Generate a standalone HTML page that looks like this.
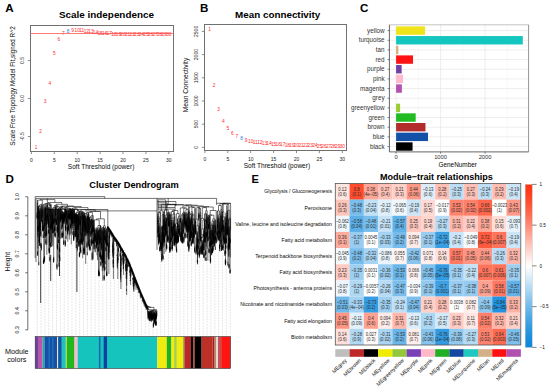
<!DOCTYPE html>
<html><head><meta charset="utf-8"><title>WGCNA figure</title>
<style>
html,body{margin:0;padding:0;background:#fff;overflow:hidden;}
svg{display:block;}
text{font-family:"Liberation Sans",sans-serif;}
</style></head>
<body>
<svg width="550" height="389" viewBox="0 0 550 389">
<rect width="550" height="389" fill="#fff"/>
<text x="5.30" y="11.90" font-size="11.6" text-anchor="start" fill="#000" font-weight="bold">A</text>
<text x="59.00" y="17.70" font-size="9.88" text-anchor="start" fill="#000" font-weight="bold">Scale independence</text>
<rect x="30.5" y="25.5" width="143.0" height="126.0" fill="none" stroke="#707070" stroke-width="1"/>
<line x1="30.5" y1="33.5" x2="173.5" y2="33.5" stroke="#ff7878" stroke-width="1"/>
<line x1="27.9" y1="60.5" x2="30.5" y2="60.5" stroke="#707070" stroke-width="0.8"/>
<text x="24.00" y="60.50" font-size="5.0" text-anchor="middle" fill="#1a1a1a" transform="rotate(-90 24.00 60.50)">0.5</text>
<line x1="27.9" y1="98.5" x2="30.5" y2="98.5" stroke="#707070" stroke-width="0.8"/>
<text x="24.00" y="98.50" font-size="5.0" text-anchor="middle" fill="#1a1a1a" transform="rotate(-90 24.00 98.50)">0.0</text>
<line x1="27.9" y1="136.5" x2="30.5" y2="136.5" stroke="#707070" stroke-width="0.8"/>
<text x="24.00" y="136.50" font-size="5.0" text-anchor="middle" fill="#1a1a1a" transform="rotate(-90 24.00 136.50)">-0.5</text>
<line x1="31.4" y1="151.5" x2="31.4" y2="154.1" stroke="#707070" stroke-width="0.8"/>
<text x="31.40" y="162.20" font-size="5.0" text-anchor="middle" fill="#1a1a1a">0</text>
<line x1="54.3" y1="151.5" x2="54.3" y2="154.1" stroke="#707070" stroke-width="0.8"/>
<text x="54.30" y="162.20" font-size="5.0" text-anchor="middle" fill="#1a1a1a">5</text>
<line x1="77.19999999999999" y1="151.5" x2="77.19999999999999" y2="154.1" stroke="#707070" stroke-width="0.8"/>
<text x="77.20" y="162.20" font-size="5.0" text-anchor="middle" fill="#1a1a1a">10</text>
<line x1="100.1" y1="151.5" x2="100.1" y2="154.1" stroke="#707070" stroke-width="0.8"/>
<text x="100.10" y="162.20" font-size="5.0" text-anchor="middle" fill="#1a1a1a">15</text>
<line x1="123.0" y1="151.5" x2="123.0" y2="154.1" stroke="#707070" stroke-width="0.8"/>
<text x="123.00" y="162.20" font-size="5.0" text-anchor="middle" fill="#1a1a1a">20</text>
<line x1="145.9" y1="151.5" x2="145.9" y2="154.1" stroke="#707070" stroke-width="0.8"/>
<text x="145.90" y="162.20" font-size="5.0" text-anchor="middle" fill="#1a1a1a">25</text>
<line x1="168.8" y1="151.5" x2="168.8" y2="154.1" stroke="#707070" stroke-width="0.8"/>
<text x="168.80" y="162.20" font-size="5.0" text-anchor="middle" fill="#1a1a1a">30</text>
<text x="101.10" y="169.00" font-size="6.55" text-anchor="middle" fill="#0a0a0a">Soft Threshold (power)</text>
<text x="15.20" y="86.00" font-size="6.38" text-anchor="middle" fill="#0a0a0a" transform="rotate(-90 15.20 86.00)">Scale Free Topology Model Fit,signed R^2</text>
<text x="35.98" y="148.65" font-size="4.8" text-anchor="middle" fill="#ff2a2a">1</text>
<text x="40.56" y="133.15" font-size="4.8" text-anchor="middle" fill="#ff2a2a">2</text>
<text x="45.14" y="103.35" font-size="4.8" text-anchor="middle" fill="#ff2a2a">3</text>
<text x="49.72" y="84.75" font-size="4.8" text-anchor="middle" fill="#ff2a2a">4</text>
<text x="54.30" y="54.55" font-size="4.8" text-anchor="middle" fill="#ff2a2a">5</text>
<text x="58.88" y="41.45" font-size="4.8" text-anchor="middle" fill="#ff2a2a">6</text>
<text x="63.46" y="34.95" font-size="4.8" text-anchor="middle" fill="#ff2a2a">7</text>
<text x="68.04" y="33.25" font-size="4.8" text-anchor="middle" fill="#1e7be0">8</text>
<text x="72.62" y="32.15" font-size="4.8" text-anchor="middle" fill="#ff2a2a">9</text>
<text x="77.20" y="32.25" font-size="4.8" text-anchor="middle" fill="#ff2a2a">10</text>
<text x="81.78" y="32.35" font-size="4.8" text-anchor="middle" fill="#ff2a2a">11</text>
<text x="86.36" y="32.55" font-size="4.8" text-anchor="middle" fill="#ff2a2a">12</text>
<text x="90.94" y="32.95" font-size="4.8" text-anchor="middle" fill="#ff2a2a">13</text>
<text x="95.52" y="34.05" font-size="4.8" text-anchor="middle" fill="#ff2a2a">14</text>
<text x="100.10" y="34.55" font-size="4.8" text-anchor="middle" fill="#ff2a2a">15</text>
<text x="104.68" y="34.95" font-size="4.8" text-anchor="middle" fill="#ff2a2a">16</text>
<text x="109.26" y="35.25" font-size="4.8" text-anchor="middle" fill="#ff2a2a">17</text>
<text x="113.84" y="35.65" font-size="4.8" text-anchor="middle" fill="#ff2a2a">18</text>
<text x="118.42" y="35.65" font-size="4.8" text-anchor="middle" fill="#ff2a2a">19</text>
<text x="123.00" y="35.65" font-size="4.8" text-anchor="middle" fill="#ff2a2a">20</text>
<text x="127.58" y="35.65" font-size="4.8" text-anchor="middle" fill="#ff2a2a">21</text>
<text x="132.16" y="35.65" font-size="4.8" text-anchor="middle" fill="#ff2a2a">22</text>
<text x="136.74" y="35.65" font-size="4.8" text-anchor="middle" fill="#ff2a2a">23</text>
<text x="141.32" y="35.65" font-size="4.8" text-anchor="middle" fill="#ff2a2a">24</text>
<text x="145.90" y="35.65" font-size="4.8" text-anchor="middle" fill="#ff2a2a">25</text>
<text x="150.48" y="35.65" font-size="4.8" text-anchor="middle" fill="#ff2a2a">26</text>
<text x="155.06" y="35.65" font-size="4.8" text-anchor="middle" fill="#ff2a2a">27</text>
<text x="159.64" y="35.65" font-size="4.8" text-anchor="middle" fill="#ff2a2a">28</text>
<text x="164.22" y="35.65" font-size="4.8" text-anchor="middle" fill="#ff2a2a">29</text>
<text x="168.80" y="35.65" font-size="4.8" text-anchor="middle" fill="#ff2a2a">30</text>
<text x="200.00" y="11.90" font-size="11.6" text-anchor="start" fill="#000" font-weight="bold">B</text>
<text x="235.10" y="17.60" font-size="9.84" text-anchor="start" fill="#000" font-weight="bold">Mean connectivity</text>
<rect x="204.5" y="24.5" width="142.0" height="126.0" fill="none" stroke="#707070" stroke-width="1"/>
<line x1="201.9" y1="147.40" x2="204.5" y2="147.40" stroke="#707070" stroke-width="0.8"/>
<text x="198.00" y="147.40" font-size="5.0" text-anchor="middle" fill="#1a1a1a" transform="rotate(-90 198.00 147.40)">0</text>
<line x1="201.9" y1="124.20" x2="204.5" y2="124.20" stroke="#707070" stroke-width="0.8"/>
<text x="198.00" y="124.20" font-size="5.0" text-anchor="middle" fill="#1a1a1a" transform="rotate(-90 198.00 124.20)">500</text>
<line x1="201.9" y1="101.00" x2="204.5" y2="101.00" stroke="#707070" stroke-width="0.8"/>
<text x="198.00" y="101.00" font-size="5.0" text-anchor="middle" fill="#1a1a1a" transform="rotate(-90 198.00 101.00)">1000</text>
<line x1="201.9" y1="77.80" x2="204.5" y2="77.80" stroke="#707070" stroke-width="0.8"/>
<text x="198.00" y="77.80" font-size="5.0" text-anchor="middle" fill="#1a1a1a" transform="rotate(-90 198.00 77.80)">1500</text>
<line x1="201.9" y1="54.60" x2="204.5" y2="54.60" stroke="#707070" stroke-width="0.8"/>
<text x="198.00" y="54.60" font-size="5.0" text-anchor="middle" fill="#1a1a1a" transform="rotate(-90 198.00 54.60)">2000</text>
<line x1="201.9" y1="31.40" x2="204.5" y2="31.40" stroke="#707070" stroke-width="0.8"/>
<text x="198.00" y="31.40" font-size="5.0" text-anchor="middle" fill="#1a1a1a" transform="rotate(-90 198.00 31.40)">2500</text>
<line x1="204.9" y1="150.5" x2="204.9" y2="153.1" stroke="#707070" stroke-width="0.8"/>
<text x="204.90" y="161.40" font-size="5.0" text-anchor="middle" fill="#1a1a1a">0</text>
<line x1="227.8" y1="150.5" x2="227.8" y2="153.1" stroke="#707070" stroke-width="0.8"/>
<text x="227.80" y="161.40" font-size="5.0" text-anchor="middle" fill="#1a1a1a">5</text>
<line x1="250.7" y1="150.5" x2="250.7" y2="153.1" stroke="#707070" stroke-width="0.8"/>
<text x="250.70" y="161.40" font-size="5.0" text-anchor="middle" fill="#1a1a1a">10</text>
<line x1="273.6" y1="150.5" x2="273.6" y2="153.1" stroke="#707070" stroke-width="0.8"/>
<text x="273.60" y="161.40" font-size="5.0" text-anchor="middle" fill="#1a1a1a">15</text>
<line x1="296.5" y1="150.5" x2="296.5" y2="153.1" stroke="#707070" stroke-width="0.8"/>
<text x="296.50" y="161.40" font-size="5.0" text-anchor="middle" fill="#1a1a1a">20</text>
<line x1="319.4" y1="150.5" x2="319.4" y2="153.1" stroke="#707070" stroke-width="0.8"/>
<text x="319.40" y="161.40" font-size="5.0" text-anchor="middle" fill="#1a1a1a">25</text>
<line x1="342.3" y1="150.5" x2="342.3" y2="153.1" stroke="#707070" stroke-width="0.8"/>
<text x="342.30" y="161.40" font-size="5.0" text-anchor="middle" fill="#1a1a1a">30</text>
<text x="276.90" y="168.20" font-size="6.55" text-anchor="middle" fill="#0a0a0a">Soft Threshold (power)</text>
<text x="188.40" y="85.00" font-size="6.63" text-anchor="middle" fill="#0a0a0a" transform="rotate(-90 188.40 85.00)">Mean Connectivity</text>
<text x="209.48" y="31.15" font-size="4.8" text-anchor="middle" fill="#ff2a2a">1</text>
<text x="214.06" y="86.55" font-size="4.8" text-anchor="middle" fill="#ff2a2a">2</text>
<text x="218.64" y="110.55" font-size="4.8" text-anchor="middle" fill="#ff2a2a">3</text>
<text x="223.22" y="123.15" font-size="4.8" text-anchor="middle" fill="#ff2a2a">4</text>
<text x="227.80" y="130.15" font-size="4.8" text-anchor="middle" fill="#ff2a2a">5</text>
<text x="232.38" y="134.85" font-size="4.8" text-anchor="middle" fill="#ff2a2a">6</text>
<text x="236.96" y="137.75" font-size="4.8" text-anchor="middle" fill="#ff2a2a">7</text>
<text x="241.54" y="140.35" font-size="4.8" text-anchor="middle" fill="#1e7be0">8</text>
<text x="246.12" y="141.76" font-size="4.8" text-anchor="middle" fill="#ff2a2a">9</text>
<text x="250.70" y="142.84" font-size="4.8" text-anchor="middle" fill="#ff2a2a">10</text>
<text x="255.28" y="143.68" font-size="4.8" text-anchor="middle" fill="#ff2a2a">11</text>
<text x="259.86" y="144.35" font-size="4.8" text-anchor="middle" fill="#ff2a2a">12</text>
<text x="264.44" y="144.89" font-size="4.8" text-anchor="middle" fill="#ff2a2a">13</text>
<text x="269.02" y="145.34" font-size="4.8" text-anchor="middle" fill="#ff2a2a">14</text>
<text x="273.60" y="145.72" font-size="4.8" text-anchor="middle" fill="#ff2a2a">15</text>
<text x="278.18" y="146.03" font-size="4.8" text-anchor="middle" fill="#ff2a2a">16</text>
<text x="282.76" y="146.30" font-size="4.8" text-anchor="middle" fill="#ff2a2a">17</text>
<text x="287.34" y="146.54" font-size="4.8" text-anchor="middle" fill="#ff2a2a">18</text>
<text x="291.92" y="146.74" font-size="4.8" text-anchor="middle" fill="#ff2a2a">19</text>
<text x="296.50" y="146.92" font-size="4.8" text-anchor="middle" fill="#ff2a2a">20</text>
<text x="301.08" y="147.08" font-size="4.8" text-anchor="middle" fill="#ff2a2a">21</text>
<text x="305.66" y="147.22" font-size="4.8" text-anchor="middle" fill="#ff2a2a">22</text>
<text x="310.24" y="147.34" font-size="4.8" text-anchor="middle" fill="#ff2a2a">23</text>
<text x="314.82" y="147.45" font-size="4.8" text-anchor="middle" fill="#ff2a2a">24</text>
<text x="319.40" y="147.55" font-size="4.8" text-anchor="middle" fill="#ff2a2a">25</text>
<text x="323.98" y="147.65" font-size="4.8" text-anchor="middle" fill="#ff2a2a">26</text>
<text x="328.56" y="147.73" font-size="4.8" text-anchor="middle" fill="#ff2a2a">27</text>
<text x="333.14" y="147.80" font-size="4.8" text-anchor="middle" fill="#ff2a2a">28</text>
<text x="337.72" y="147.87" font-size="4.8" text-anchor="middle" fill="#ff2a2a">29</text>
<text x="342.30" y="147.94" font-size="4.8" text-anchor="middle" fill="#ff2a2a">30</text>
<text x="359.90" y="12.30" font-size="11.6" text-anchor="start" fill="#000" font-weight="bold">C</text>
<rect x="389.4" y="24.8" width="139.20000000000005" height="127.10000000000001" fill="#fff"/>
<line x1="418.35" y1="24.8" x2="418.35" y2="151.9" stroke="#f2f2f2" stroke-width="0.5"/>
<line x1="462.85" y1="24.8" x2="462.85" y2="151.9" stroke="#f2f2f2" stroke-width="0.5"/>
<line x1="507.35" y1="24.8" x2="507.35" y2="151.9" stroke="#f2f2f2" stroke-width="0.5"/>
<line x1="396.10" y1="24.8" x2="396.10" y2="151.9" stroke="#e6e6e6" stroke-width="0.7"/>
<line x1="440.60" y1="24.8" x2="440.60" y2="151.9" stroke="#e6e6e6" stroke-width="0.7"/>
<line x1="485.10" y1="24.8" x2="485.10" y2="151.9" stroke="#e6e6e6" stroke-width="0.7"/>
<line x1="389.4" y1="30.60" x2="528.6" y2="30.60" stroke="#e6e6e6" stroke-width="0.7"/>
<line x1="389.4" y1="40.26" x2="528.6" y2="40.26" stroke="#e6e6e6" stroke-width="0.7"/>
<line x1="389.4" y1="49.92" x2="528.6" y2="49.92" stroke="#e6e6e6" stroke-width="0.7"/>
<line x1="389.4" y1="59.58" x2="528.6" y2="59.58" stroke="#e6e6e6" stroke-width="0.7"/>
<line x1="389.4" y1="69.24" x2="528.6" y2="69.24" stroke="#e6e6e6" stroke-width="0.7"/>
<line x1="389.4" y1="78.90" x2="528.6" y2="78.90" stroke="#e6e6e6" stroke-width="0.7"/>
<line x1="389.4" y1="88.56" x2="528.6" y2="88.56" stroke="#e6e6e6" stroke-width="0.7"/>
<line x1="389.4" y1="98.22" x2="528.6" y2="98.22" stroke="#e6e6e6" stroke-width="0.7"/>
<line x1="389.4" y1="107.88" x2="528.6" y2="107.88" stroke="#e6e6e6" stroke-width="0.7"/>
<line x1="389.4" y1="117.54" x2="528.6" y2="117.54" stroke="#e6e6e6" stroke-width="0.7"/>
<line x1="389.4" y1="127.20" x2="528.6" y2="127.20" stroke="#e6e6e6" stroke-width="0.7"/>
<line x1="389.4" y1="136.86" x2="528.6" y2="136.86" stroke="#e6e6e6" stroke-width="0.7"/>
<line x1="389.4" y1="146.52" x2="528.6" y2="146.52" stroke="#e6e6e6" stroke-width="0.7"/>
<rect x="396.1" y="26.40" width="28.92" height="8.4" fill="#efe31a"/>
<line x1="387.5" y1="30.60" x2="389.4" y2="30.60" stroke="#333" stroke-width="0.6"/>
<text x="384.60" y="32.80" font-size="6.3" text-anchor="end" fill="#333333">yellow</text>
<rect x="396.1" y="36.06" width="126.69" height="8.4" fill="#13c6bf"/>
<line x1="387.5" y1="40.26" x2="389.4" y2="40.26" stroke="#333" stroke-width="0.6"/>
<text x="384.60" y="42.46" font-size="6.3" text-anchor="end" fill="#333333">turquoise</text>
<rect x="396.1" y="45.72" width="2.23" height="8.4" fill="#d9ab7f"/>
<line x1="387.5" y1="49.92" x2="389.4" y2="49.92" stroke="#333" stroke-width="0.6"/>
<text x="384.60" y="52.12" font-size="6.3" text-anchor="end" fill="#333333">tan</text>
<rect x="396.1" y="55.38" width="16.91" height="8.4" fill="#ff1212"/>
<line x1="387.5" y1="59.58" x2="389.4" y2="59.58" stroke="#333" stroke-width="0.6"/>
<text x="384.60" y="61.78" font-size="6.3" text-anchor="end" fill="#333333">red</text>
<rect x="396.1" y="65.04" width="5.56" height="8.4" fill="#7240a2"/>
<line x1="387.5" y1="69.24" x2="389.4" y2="69.24" stroke="#333" stroke-width="0.6"/>
<text x="384.60" y="71.44" font-size="6.3" text-anchor="end" fill="#333333">purple</text>
<rect x="396.1" y="74.70" width="6.90" height="8.4" fill="#ffb9cb"/>
<line x1="387.5" y1="78.90" x2="389.4" y2="78.90" stroke="#333" stroke-width="0.6"/>
<text x="384.60" y="81.10" font-size="6.3" text-anchor="end" fill="#333333">pink</text>
<rect x="396.1" y="84.36" width="5.79" height="8.4" fill="#b552b0"/>
<line x1="387.5" y1="88.56" x2="389.4" y2="88.56" stroke="#333" stroke-width="0.6"/>
<text x="384.60" y="90.76" font-size="6.3" text-anchor="end" fill="#333333">magenta</text>
<line x1="387.5" y1="98.22" x2="389.4" y2="98.22" stroke="#333" stroke-width="0.6"/>
<text x="384.60" y="100.42" font-size="6.3" text-anchor="end" fill="#333333">grey</text>
<rect x="396.1" y="103.68" width="4.00" height="8.4" fill="#9acd32"/>
<line x1="387.5" y1="107.88" x2="389.4" y2="107.88" stroke="#333" stroke-width="0.6"/>
<text x="384.60" y="110.08" font-size="6.3" text-anchor="end" fill="#333333">greenyellow</text>
<rect x="396.1" y="113.34" width="19.58" height="8.4" fill="#22bb22"/>
<line x1="387.5" y1="117.54" x2="389.4" y2="117.54" stroke="#333" stroke-width="0.6"/>
<text x="384.60" y="119.74" font-size="6.3" text-anchor="end" fill="#333333">green</text>
<rect x="396.1" y="123.00" width="29.37" height="8.4" fill="#b22c2c"/>
<line x1="387.5" y1="127.20" x2="389.4" y2="127.20" stroke="#333" stroke-width="0.6"/>
<text x="384.60" y="129.40" font-size="6.3" text-anchor="end" fill="#333333">brown</text>
<rect x="396.1" y="132.66" width="31.91" height="8.4" fill="#1350a8"/>
<line x1="387.5" y1="136.86" x2="389.4" y2="136.86" stroke="#333" stroke-width="0.6"/>
<text x="384.60" y="139.06" font-size="6.3" text-anchor="end" fill="#333333">blue</text>
<rect x="396.1" y="142.32" width="16.46" height="8.4" fill="#000000"/>
<line x1="387.5" y1="146.52" x2="389.4" y2="146.52" stroke="#333" stroke-width="0.6"/>
<text x="384.60" y="148.72" font-size="6.3" text-anchor="end" fill="#333333">black</text>
<line x1="389.4" y1="24.8" x2="528.6" y2="24.8" stroke="#bdbdbd" stroke-width="0.9"/>
<line x1="528.6" y1="24.8" x2="528.6" y2="151.9" stroke="#8a8a8a" stroke-width="0.9"/>
<line x1="389.4" y1="24.8" x2="389.4" y2="151.9" stroke="#555" stroke-width="0.9"/>
<line x1="389.4" y1="151.9" x2="528.6" y2="151.9" stroke="#555" stroke-width="0.9"/>
<line x1="396.10" y1="151.9" x2="396.10" y2="153.70000000000002" stroke="#333" stroke-width="0.6"/>
<text x="396.10" y="159.40" font-size="5.8" text-anchor="middle" fill="#333333">0</text>
<line x1="440.60" y1="151.9" x2="440.60" y2="153.70000000000002" stroke="#333" stroke-width="0.6"/>
<text x="440.60" y="159.40" font-size="5.8" text-anchor="middle" fill="#333333">1000</text>
<line x1="485.10" y1="151.9" x2="485.10" y2="153.70000000000002" stroke="#333" stroke-width="0.6"/>
<text x="485.10" y="159.40" font-size="5.8" text-anchor="middle" fill="#333333">2000</text>
<text x="457.70" y="166.90" font-size="6.4" text-anchor="middle" fill="#050505">GeneNumber</text>
<g stroke="#4a4a4a" stroke-width="0.8" fill="none">
<path d="M27.8 196.8V329.8"/>
<path d="M25.2 329.8H27.8"/>
<path d="M25.2 310.8H27.8"/>
<path d="M25.2 291.8H27.8"/>
<path d="M25.2 272.8H27.8"/>
<path d="M25.2 253.8H27.8"/>
<path d="M25.2 234.8H27.8"/>
<path d="M25.2 215.8H27.8"/>
<path d="M25.2 196.8H27.8"/>
</g>
<text x="19.3" y="329.8" font-size="5.2" text-anchor="middle" fill="#0a0a0a" transform="rotate(-90 19.3 329.8)">0.3</text>
<text x="19.3" y="310.8" font-size="5.2" text-anchor="middle" fill="#0a0a0a" transform="rotate(-90 19.3 310.8)">0.4</text>
<text x="19.3" y="291.8" font-size="5.2" text-anchor="middle" fill="#0a0a0a" transform="rotate(-90 19.3 291.8)">0.5</text>
<text x="19.3" y="272.8" font-size="5.2" text-anchor="middle" fill="#0a0a0a" transform="rotate(-90 19.3 272.8)">0.6</text>
<text x="19.3" y="253.8" font-size="5.2" text-anchor="middle" fill="#0a0a0a" transform="rotate(-90 19.3 253.8)">0.7</text>
<text x="19.3" y="234.8" font-size="5.2" text-anchor="middle" fill="#0a0a0a" transform="rotate(-90 19.3 234.8)">0.8</text>
<text x="19.3" y="215.8" font-size="5.2" text-anchor="middle" fill="#0a0a0a" transform="rotate(-90 19.3 215.8)">0.9</text>
<text x="19.3" y="196.8" font-size="5.2" text-anchor="middle" fill="#0a0a0a" transform="rotate(-90 19.3 196.8)">1.0</text>
<text x="9.6" y="261.6" font-size="6.8" text-anchor="middle" fill="#0a0a0a" transform="rotate(-90 9.6 261.6)">Height</text>
<text x="134.0" y="187.6" font-size="9.25" font-weight="bold" text-anchor="middle" fill="#000">Cluster Dendrogram</text>
<text x="5.6" y="182.7" font-size="11.6" font-weight="bold" fill="#000">D</text>
<path d="M37.20 259.0V335.5M41.06 261.0V335.5M44.92 257.1V335.5M48.78 250.5V335.5M52.64 259.4V335.5M56.50 270.4V335.5M60.36 256.9V335.5M64.22 243.5V335.5M68.08 242.7V335.5M71.94 243.5V335.5M75.80 249.2V335.5M79.66 260.8V335.5M83.52 261.1V335.5M87.38 261.8V335.5M91.24 248.0V335.5M95.10 260.2V335.5M98.96 273.8V335.5M102.82 284.6V335.5M106.68 276.0V335.5M110.54 233.8V335.5M114.40 240.0V335.5M118.26 245.5V335.5M122.12 252.3V335.5M125.98 259.0V335.5M129.84 267.6V335.5M133.70 277.5V335.5M137.56 287.5V335.5M141.42 297.1V335.5M145.28 305.9V335.5M149.14 312.6V335.5M153.00 321.1V335.5M156.86 329.0V335.5M160.72 254.8V335.5M164.58 258.0V335.5M168.44 252.3V335.5M172.30 250.8V335.5M176.16 253.5V335.5M180.02 249.3V335.5M183.88 240.1V335.5M187.74 244.5V335.5M191.60 246.5V335.5M195.46 253.5V335.5M199.32 255.1V335.5M203.18 258.5V335.5M207.04 262.0V335.5M210.90 258.5V335.5M214.76 250.2V335.5M218.62 241.0V335.5M222.48 253.4V335.5M226.34 266.2V335.5M230.20 273.4V335.5" stroke="#a8a8a8" stroke-width="0.55" stroke-dasharray="0.55 1.0" fill="none"/>
<path d="M101.1 240.3V236.9H101.2V240.0M101.0 239.9V236.5H101.1V236.9M101.4 249.4V246.5H101.5V250.6M101.4 246.5V245.1H101.5V248.2M101.5 245.1V243.7H101.5V247.4M101.3 246.2V242.9H101.5V243.7M101.3 245.8V242.6H101.4V242.9M101.2 244.1V241.1H101.3V242.6M101.1 236.5V230.3H101.3V241.1M101.2 230.3V229.6H101.6V242.9M101.9 261.9V258.2H102.0V262.2M101.8 260.5V257.0H101.9V258.2M101.8 259.8V256.2H101.9V257.0M101.7 258.8V256.0H101.8V256.2M101.8 256.0V255.0H102.1V259.0M101.9 255.0V254.5H102.1V257.8M102.0 254.5V229.8H102.2V271.1M101.4 229.6V228.3H102.1V229.8M102.5 262.9V259.9H102.5V263.3M102.3 262.5V259.5H102.5V259.9M102.4 259.5V258.6H102.6V262.5M102.5 258.6V258.4H102.7V262.4M102.9 257.7V254.3H103.0V257.3M102.8 256.8V253.2H102.9V254.3M102.9 253.2V252.7H103.0V255.5M102.8 256.3V252.5H103.0V252.7M102.9 252.5V251.1H103.1V254.6M103.1 268.0V265.1H103.2V268.4M103.3 261.1V258.2H103.4V261.6M103.3 258.2V257.4H103.5V261.0M103.2 265.1V232.9H103.4V257.4M103.0 251.1V231.8H103.3V232.9M102.7 280.9V231.5H103.1V231.8M102.6 258.4V229.7H102.9V231.5M101.8 228.3V228.0H102.8V229.7M102.3 228.0V227.6H103.7V265.6M104.1 280.6V277.1H104.2V280.4M104.0 279.1V275.8H104.1V277.1M104.1 275.8V275.0H104.3V279.0M103.9 270.6V229.2H104.2V275.0M103.8 263.0V228.3H104.0V229.2M103.8 266.7V228.1H103.9V228.3M103.0 227.6V227.4H103.8V228.1M104.4 239.7V236.7H104.5V240.2M104.5 236.7V236.3H104.6V239.7M104.5 236.3V235.8H104.6V239.1M104.7 271.4V267.6H104.8V270.6M104.7 267.6V266.5H104.9V269.8M104.7 269.1V265.8H104.8V266.5M105.1 264.4V261.1H105.2V264.5M105.6 241.9V238.0H105.7V241.5M105.5 241.0V237.7H105.6V238.0M105.4 239.5V236.2H105.6V237.7M105.3 239.2V235.1H105.5V236.2M105.1 261.1V230.9H105.4V235.1M105.8 251.3V247.9H105.9V250.9M105.8 247.9V246.9H106.0V250.3M105.3 230.9V230.3H105.9V246.9M104.9 240.1V230.1H105.6V230.3M106.0 244.3V240.3H106.1V244.1M106.3 243.6V240.6H106.3V243.4M106.2 244.1V240.0H106.3V240.6M106.1 240.3V239.8H106.3V240.0M106.5 275.9V272.7H106.6V276.4M106.6 272.7V271.7H106.7V275.6M106.4 275.0V271.4H106.6V271.7M106.7 240.4V237.3H106.8V241.2M106.5 271.4V232.7H106.8V237.3M106.7 232.7V231.7H106.9V246.1M106.8 231.7V231.4H107.0V257.6M106.2 239.8V230.7H106.9V231.4M105.3 230.1V229.9H106.5V230.7M105.9 229.9V229.5H107.1V276.0M107.2 245.8V242.9H107.3V246.1M107.2 242.9V242.5H107.3V246.3M107.1 245.6V242.0H107.3V242.5M107.2 242.0V240.6H107.4V243.9M106.5 229.5V229.3H107.3V240.6M106.9 229.3V229.1H107.4V237.7M104.7 265.8V228.3H107.2V229.1M104.6 235.8V228.0H106.0V228.3M103.4 227.4V225.9H105.3V228.0M93.6 244.2V240.1H93.7V243.8M93.5 243.3V239.6H93.6V240.1M93.6 239.6V238.3H93.8V241.7M93.7 238.3V237.3H93.9V240.8M93.8 237.3V221.2H94.0V248.9M94.2 249.3V245.4H94.3V249.3M93.9 221.2V220.2H94.2V245.4M94.6 240.6V236.6H94.7V240.1M94.9 240.9V237.7H95.0V241.1M94.8 240.8V237.3H94.9V237.7M94.7 236.6V236.0H94.9V237.3M95.1 251.8V248.4H95.2V252.4M94.8 236.0V233.4H95.1V248.4M94.6 242.7V233.2H94.9V233.4M94.5 240.3V231.3H94.8V233.2M94.5 246.4V229.9H94.6V231.3M94.4 237.3V229.7H94.6V229.9M95.4 238.9V235.8H95.5V238.8M95.4 235.8V234.7H95.6V237.7M95.2 237.8V234.1H95.5V234.7M95.6 242.7V239.0H95.7V243.1M95.7 239.0V237.6H95.8V241.1M95.7 237.6V236.4H95.8V240.1M95.8 236.4V235.8H95.9V239.7M96.1 249.1V245.2H96.2V248.1M96.1 245.2V244.8H96.2V247.9M96.0 248.3V244.3H96.2V244.8M96.1 244.3V243.4H96.3V246.8M96.4 240.5V236.5H96.5V240.1M96.7 245.5V242.6H96.8V246.4M96.6 245.9V242.4H96.7V242.6M96.7 242.4V241.0H96.9V244.5M96.6 243.4V240.0H96.8V241.0M96.4 236.5V230.4H96.7V240.0M96.2 243.4V230.2H96.6V230.4M95.8 235.8V230.0H96.4V230.2M95.4 234.1V229.8H96.1V230.0M97.1 244.6V241.5H97.2V245.2M97.2 241.5V241.0H97.3V244.9M97.2 241.0V240.4H97.4V243.7M97.3 240.4V240.0H97.4V243.6M97.0 255.4V232.3H97.4V240.0M97.2 232.3V231.1H97.5V260.1M96.9 235.8V230.1H97.3V231.1M97.6 240.7V236.8H97.6V240.5M97.6 236.8V235.9H97.7V239.4M97.6 235.9V235.0H97.8V239.0M97.7 235.0V234.7H97.9V237.7M97.8 234.7V234.4H98.0V238.2M97.9 234.4V230.3H98.0V238.4M97.1 230.1V229.8H98.0V230.3M95.7 229.8V229.6H97.5V229.8M98.2 251.8V248.5H98.3V251.6M98.3 248.5V247.4H98.3V251.5M98.1 250.7V247.1H98.3V247.4M98.2 247.1V246.9H98.3V249.7M98.6 275.9V272.8H98.7V275.9M98.6 275.3V272.3H98.7V272.8M98.6 272.3V271.1H98.8V274.3M98.5 273.2V270.3H98.7V271.1M98.5 272.3V269.1H98.6V270.3M98.5 269.1V232.8H98.9V244.3M98.4 240.9V231.2H98.7V232.8M98.3 246.9V230.8H98.6V231.2M98.4 230.8V230.4H98.9V247.1M99.0 276.3V273.1H99.1V276.4M99.1 273.1V272.7H99.2V275.6M99.1 272.7V272.0H99.2V275.7M99.2 272.0V271.3H99.3V274.5M98.7 230.4V229.9H99.3V271.3M96.6 229.6V229.2H99.0V229.9M94.5 229.7V228.3H97.8V229.2M99.8 243.5V240.1H99.9V243.1M99.9 240.1V239.5H99.9V243.1M99.7 242.8V239.1H99.9V239.5M99.8 239.1V237.7H100.0V240.9M99.7 240.4V237.5H99.9V237.7M99.6 239.5V236.2H99.8V237.5M99.5 257.0V229.9H99.7V236.2M99.6 229.9V229.2H100.0V237.3M96.1 228.3V228.1H99.8V229.2M100.3 257.6V254.3H100.4V257.4M100.2 256.9V253.8H100.4V254.3M100.1 255.9V253.0H100.3V253.8M100.2 253.0V252.2H100.5V255.7M100.6 259.6V256.1H100.7V259.4M100.6 256.1V255.0H100.7V258.2M100.3 252.2V226.3H100.7V255.0M100.8 266.3V262.4H100.9V266.3M100.8 262.4V262.0H100.9V264.9M100.9 262.0V261.6H101.0V264.7M100.5 226.3V226.0H100.9V261.6M100.0 243.9V225.8H100.7V226.0M98.0 228.1V225.5H100.4V225.8M94.0 220.2V219.9H99.2V225.5M96.6 219.9V218.8H104.3V225.9M85.1 225.1V222.2H85.2V225.4M85.0 224.6V221.2H85.1V222.2M85.3 232.1V229.3H85.4V232.5M85.3 232.0V228.1H85.4V229.3M85.3 228.1V227.1H85.4V230.8M85.4 227.1V226.3H85.5V229.5M85.4 226.3V225.5H85.5V229.0M85.5 225.5V225.2H85.6V228.0M86.0 235.7V232.4H86.1V235.6M85.9 235.5V231.9H86.1V232.4M85.7 263.8V216.8H86.0V231.9M85.5 225.2V216.6H85.8V216.8M85.2 236.7V216.4H85.7V216.6M86.3 228.5V225.1H86.4V228.8M86.7 233.6V230.1H86.8V233.5M86.6 232.4V229.0H86.7V230.1M86.5 231.8V228.2H86.7V229.0M86.6 228.2V227.1H86.8V230.0M86.5 229.5V226.5H86.7V227.1M86.4 225.1V219.0H86.6V226.5M86.2 225.9V218.5H86.5V219.0M86.9 247.9V244.2H87.0V247.3M87.0 244.2V242.9H87.1V246.8M87.0 242.9V241.4H87.1V244.8M86.4 218.5V217.9H87.1V241.4M85.5 216.4V215.8H86.7V217.9M87.2 255.0V252.2H87.4V255.4M87.8 233.8V230.4H87.9V234.4M87.8 230.4V229.8H88.0V233.1M87.7 231.8V228.4H87.9V229.8M87.6 228.9V216.7H87.8V228.4M87.5 224.7V216.5H87.7V216.7M87.3 252.2V216.3H87.6V216.5M87.4 216.3V216.1H88.1V242.4M87.8 216.1V215.1H88.2V236.0M86.1 215.8V214.7H88.0V215.1M85.1 221.2V213.5H87.0V214.7M88.4 228.4V224.8H88.5V228.9M88.3 227.6V224.0H88.4V224.8M88.4 224.0V223.7H88.5V227.7M88.6 246.2V243.1H88.7V246.5M88.7 243.1V242.8H88.8V245.6M88.6 244.5V241.5H88.7V242.8M88.7 241.5V240.2H88.9V243.3M88.6 242.9V239.1H88.8V240.2M89.0 232.6V228.7H89.1V231.7M88.7 239.1V217.4H89.1V228.7M88.9 217.4V216.8H89.2V250.3M88.4 223.7V213.9H89.0V216.8M88.3 238.9V213.2H88.7V213.9M86.1 213.5V212.7H88.5V213.2M89.4 248.6V245.3H89.5V248.4M89.5 245.3V245.0H89.6V248.0M89.3 247.5V244.3H89.5V245.0M90.0 250.5V247.3H90.1V251.0M90.0 247.3V246.8H90.2V249.7M89.9 249.3V245.9H90.1V246.8M89.8 248.8V245.2H90.0V245.9M89.7 229.8V218.0H89.9V245.2M89.4 244.3V217.8H89.8V218.0M90.2 234.2V231.3H90.3V234.7M90.4 228.3V224.8H90.5V228.1M90.6 236.9V233.1H90.8V236.7M90.7 233.1V231.6H90.9V234.8M90.5 224.8V220.7H90.8V231.6M90.3 231.3V220.5H90.6V220.7M90.5 220.5V219.9H91.0V225.0M91.2 246.4V242.9H91.3V246.1M91.2 244.8V241.6H91.3V242.9M91.1 244.5V240.7H91.2V241.6M91.2 240.7V240.2H91.4V243.4M91.3 240.2V239.3H91.4V242.4M91.0 242.2V238.8H91.3V239.3M90.7 219.9V219.6H91.2V238.8M91.0 219.6V219.4H91.5V225.7M91.8 234.3V231.4H91.9V234.9M91.8 233.8V230.6H91.9V231.4M91.8 230.6V229.1H92.0V232.6M91.7 232.8V228.8H91.9V229.1M91.7 232.5V228.5H91.8V228.8M92.1 260.2V257.4H92.2V260.4M92.2 257.4V255.9H92.2V259.1M92.2 255.9V254.7H92.3V258.2M92.0 256.7V253.2H92.2V254.7M92.1 253.2V252.1H92.4V255.6M91.7 228.5V220.7H92.3V252.1M92.0 220.7V220.5H92.5V232.1M91.6 244.9V219.5H92.3V220.5M91.2 219.4V219.2H91.9V219.5M89.6 217.8V217.6H91.6V219.2M92.6 244.1V240.6H92.7V243.8M92.6 243.1V240.1H92.7V240.6M90.6 217.6V216.2H92.6V240.1M92.9 231.2V227.4H93.0V231.5M92.8 229.9V226.0H92.9V227.4M92.9 226.0V225.3H93.1V228.3M93.2 232.1V228.2H93.3V231.6M93.1 230.6V227.6H93.3V228.2M93.1 230.4V227.3H93.2V227.6M93.1 230.0V226.8H93.2V227.3M93.1 226.8V225.4H93.4V228.5M93.0 225.3V220.0H93.2V225.4M93.1 220.0V219.8H93.4V259.4M91.6 216.2V215.6H93.3V219.8M87.3 212.7V212.4H92.4V215.6M89.9 212.4V211.5H100.5V218.8M79.7 221.3V218.2H79.8V222.1M80.0 225.0V221.5H80.1V225.0M80.0 224.6V221.3H80.1V221.5M80.0 221.3V220.7H80.2V224.3M79.9 223.8V220.3H80.1V220.7M80.4 251.4V247.5H80.5V251.1M80.6 251.7V248.7H80.6V252.5M80.6 248.7V248.4H80.7V251.3M80.5 247.5V247.0H80.7V248.4M80.8 253.4V250.0H80.8V253.3M80.6 247.0V216.5H80.8V250.0M80.3 235.0V216.3H80.7V216.5M80.2 249.7V216.1H80.5V216.3M80.0 220.3V213.5H80.4V216.1M81.0 245.0V240.9H81.1V244.4M81.0 243.7V240.4H81.0V240.9M80.9 243.3V240.1H81.0V240.4M81.0 240.1V239.2H81.1V242.3M81.1 239.2V238.7H81.2V242.4M81.1 238.7V212.2H81.3V219.6M80.2 213.5V211.9H81.2V212.2M81.5 243.3V239.9H81.6V243.1M81.6 239.9V238.5H81.7V242.1M81.7 238.5V238.0H81.8V241.4M81.5 240.8V236.7H81.7V238.0M81.5 239.9V236.5H81.6V236.7M81.8 237.3V233.8H81.9V237.6M81.9 233.8V233.1H82.0V236.9M82.0 233.1V232.3H82.2V235.6M82.1 232.3V215.0H82.3V237.3M82.5 245.0V241.4H82.6V244.8M82.4 243.4V240.4H82.5V241.4M82.5 240.4V239.7H82.6V243.2M82.2 215.0V213.1H82.5V239.7M81.5 236.5V212.9H82.4V213.1M81.9 212.9V212.1H82.7V258.2M82.9 230.9V228.1H83.0V231.3M83.0 228.1V227.8H83.1V231.9M82.8 230.2V227.1H83.0V227.8M83.2 241.9V238.7H83.3V241.5M83.1 241.0V237.8H83.3V238.7M83.2 237.8V236.7H83.4V239.9M82.9 227.1V216.1H83.3V236.7M83.1 216.1V215.9H83.4V239.0M83.2 215.9V215.6H83.4V227.1M82.7 233.2V214.5H83.3V215.6M83.5 222.5V218.6H83.6V222.3M83.0 214.5V212.8H83.6V218.6M83.7 254.4V251.1H83.8V254.7M83.7 251.1V249.8H83.8V253.4M83.8 249.8V249.1H83.9V251.9M83.8 249.1V247.6H83.9V250.7M83.9 247.6V246.3H83.9V250.0M84.0 253.5V250.1H84.1V254.1M84.1 250.1V249.4H84.2V252.5M84.0 251.2V248.1H84.1V249.4M84.0 250.9V247.8H84.1V248.1M84.2 227.8V224.4H84.4V227.2M84.3 224.4V223.8H84.5V226.7M84.0 247.8V213.9H84.4V223.8M83.9 246.3V213.7H84.2V213.9M84.6 225.9V223.0H84.7V225.8M84.8 228.4V225.0H84.9V227.9M84.9 225.0V224.3H85.0V227.9M84.8 226.8V223.9H84.9V224.3M84.7 223.0V222.6H84.9V223.9M84.6 225.1V221.4H84.8V222.6M84.5 254.8V216.8H84.7V221.4M84.5 236.4V216.3H84.6V216.8M84.0 213.7V213.2H84.5V216.3M83.3 212.8V212.5H84.3V213.2M82.3 212.1V211.9H83.8V212.5M80.7 211.9V211.7H83.0V211.9M79.8 218.2V211.2H81.9V211.7M80.8 211.2V209.7H95.2V211.5M72.5 223.5V220.0H72.5V223.7M72.5 220.0V219.6H72.6V223.6M72.6 219.6V219.0H72.7V221.9M72.4 221.4V217.7H72.6V219.0M72.4 220.7V216.6H72.5V217.7M72.5 216.6V216.4H72.7V219.4M72.6 216.4V216.0H72.8V218.8M72.4 228.1V211.6H72.7V216.0M72.5 211.6V211.2H72.9V223.2M73.0 234.9V231.9H73.1V235.6M73.0 231.9V231.0H73.2V234.8M73.1 231.0V230.8H73.2V234.7M72.7 211.2V209.6H73.2V230.8M72.3 230.0V208.3H72.9V209.6M73.3 223.4V220.4H73.4V223.4M73.7 240.9V237.5H73.8V240.4M73.6 240.8V237.2H73.7V237.5M73.6 239.0V236.2H73.7V237.2M73.6 236.2V235.8H73.8V239.4M73.5 239.2V235.6H73.7V235.8M73.6 235.6V234.4H73.9V238.4M73.8 234.4V209.9H74.0V236.8M73.4 220.4V209.7H73.9V209.9M74.1 226.1V222.1H74.2V225.6M74.3 219.0V215.1H74.5V218.9M74.4 215.1V214.4H74.6V218.0M74.2 222.1V210.2H74.5V214.4M74.1 222.1V209.7H74.3V210.2M73.6 209.7V209.5H74.2V209.7M74.8 223.5V219.6H74.9V223.5M74.7 222.2V218.8H74.9V219.6M75.2 237.1V233.4H75.2V237.2M75.2 233.4V232.9H75.3V236.7M75.2 232.9V231.7H75.3V235.0M75.0 235.0V231.5H75.3V231.7M75.6 230.7V227.9H75.7V231.7M75.5 229.9V226.9H75.6V227.9M75.5 229.1V226.1H75.6V226.9M75.4 229.3V225.8H75.5V226.1M75.2 231.5V215.6H75.5V225.8M75.3 215.6V215.2H75.7V223.5M74.8 218.8V215.0H75.5V215.2M74.7 236.2V214.4H75.2V215.0M74.9 214.4V214.2H75.8V237.1M76.1 232.1V228.4H76.1V231.6M76.2 233.0V229.5H76.3V232.8M76.2 231.9V228.6H76.2V229.5M76.1 228.4V228.1H76.2V228.6M76.2 228.1V217.1H76.4V226.9M76.0 248.3V215.3H76.3V217.1M75.9 228.9V215.1H76.1V215.3M75.4 214.2V214.0H76.0V215.1M74.7 220.9V213.8H75.7V214.0M76.6 234.8V231.8H76.7V235.6M76.9 237.2V233.5H77.0V237.3M76.8 235.5V232.4H77.0V233.5M76.6 231.8V231.5H76.9V232.4M77.1 223.4V220.0H77.2V223.4M77.1 222.8V219.5H77.2V220.0M77.1 219.5V218.8H77.2V222.4M76.8 231.5V214.4H77.2V218.8M76.6 242.3V214.0H77.0V214.4M76.5 248.2V213.7H76.8V214.0M75.2 213.8V213.5H76.7V213.7M77.4 242.2V238.5H77.5V242.0M77.5 238.5V237.3H77.5V240.3M77.5 237.3V236.5H77.5V239.3M77.3 239.7V236.2H77.5V236.5M77.8 230.2V227.3H77.9V230.5M77.7 229.8V226.6H77.8V227.3M77.9 229.5V225.6H78.0V229.4M78.0 225.6V225.1H78.1V228.8M78.2 240.0V237.1H78.2V240.7M78.2 237.1V235.6H78.4V238.8M78.3 235.6V234.4H78.5V237.5M78.0 225.1V216.6H78.4V234.4M77.8 226.6V216.2H78.2V216.6M78.0 216.2V216.0H78.5V227.1M77.6 249.5V215.5H78.2V216.0M77.4 236.2V215.1H77.9V215.5M77.3 251.3V214.9H77.7V215.1M77.5 214.9V214.7H78.6V236.6M78.7 227.2V223.7H78.7V226.6M78.0 214.7V214.0H78.7V223.7M75.9 213.5V212.6H78.4V214.0M78.9 246.7V243.0H79.0V246.9M78.9 243.0V242.0H79.0V245.7M78.8 245.4V241.4H79.0V242.0M78.9 241.4V241.0H79.0V244.1M79.0 241.0V240.7H79.1V243.7M79.0 240.7V239.6H79.1V243.6M79.1 239.6V239.0H79.2V243.0M79.5 257.1V253.9H79.6V257.4M79.4 256.5V253.0H79.5V253.9M79.3 256.2V252.7H79.5V253.0M79.4 252.7V252.3H79.6V255.2M79.5 252.3V252.0H79.6V255.7M79.1 239.0V211.4H79.6V252.0M78.8 245.9V210.9H79.3V211.4M77.1 212.6V210.7H79.1V210.9M73.9 209.5V209.3H78.1V210.7M72.6 208.3V208.1H76.0V209.3M74.3 208.1V207.6H88.0V209.7M65.2 246.3V243.2H65.3V246.5M65.2 243.2V242.2H65.3V245.0M65.1 244.5V241.6H65.3V242.2M65.1 243.5V240.5H65.2V241.6M65.1 243.0V240.2H65.1V240.5M65.5 231.2V227.5H65.6V230.7M65.5 229.7V226.5H65.6V227.5M65.5 228.4V225.6H65.5V226.5M65.4 228.4V225.4H65.5V225.6M65.4 228.2V225.1H65.5V225.4M65.4 225.1V209.8H65.8V216.5M65.6 209.8V209.5H65.9V215.5M65.7 209.5V209.0H65.9V228.5M65.8 209.0V208.8H65.9V217.9M66.0 238.9V235.9H66.1V239.3M66.4 223.1V219.6H66.4V223.4M66.4 219.6V218.8H66.6V222.0M66.5 218.8V218.4H66.7V221.6M66.3 220.1V211.8H66.6V218.4M66.1 235.9V210.7H66.4V211.8M66.9 224.7V221.4H67.0V224.9M66.9 221.4V220.5H67.1V223.7M66.8 223.4V219.5H67.0V220.5M67.3 231.5V228.0H67.4V232.0M67.2 231.1V227.2H67.4V228.0M67.1 229.9V226.7H67.3V227.2M66.9 219.5V211.3H67.2V226.7M67.6 234.2V231.3H67.7V235.3M67.6 231.3V230.7H67.8V234.1M67.5 233.1V230.3H67.7V230.7M67.1 211.3V211.1H67.6V230.3M67.9 219.3V216.3H68.0V219.8M67.9 218.8V215.4H68.0V216.3M67.9 215.4V214.7H68.1V217.7M68.3 231.6V227.6H68.4V231.0M68.2 230.5V226.8H68.3V227.6M68.2 230.1V226.3H68.3V226.8M68.2 226.3V225.6H68.5V229.4M68.3 225.6V224.6H68.5V227.6M68.0 214.7V211.4H68.4V224.6M67.8 241.8V211.1H68.2V211.4M68.0 211.1V210.9H68.6V229.3M67.3 211.1V210.7H68.3V210.9M68.7 218.5V214.5H68.8V217.7M67.8 210.7V210.5H68.8V214.5M66.3 210.7V210.2H68.3V210.5M68.9 218.8V214.8H69.0V218.1M68.8 217.2V214.0H68.9V214.8M69.1 217.8V214.2H69.2V217.7M68.9 214.0V213.5H69.1V214.2M69.5 218.6V215.8H69.6V219.8M69.4 218.0V214.4H69.5V215.8M69.5 214.4V214.2H69.7V217.6M69.6 214.2V213.5H69.8V216.5M69.3 239.6V209.7H69.7V213.5M69.0 213.5V209.5H69.5V209.7M69.3 209.5V209.3H69.9V235.4M70.2 218.8V215.6H70.3V219.7M70.2 217.5V214.6H70.3V215.6M70.1 218.0V214.3H70.2V214.6M70.1 214.3V214.0H70.4V217.2M70.3 214.0V209.8H70.5V219.2M70.0 234.4V209.6H70.4V209.8M70.7 228.6V225.2H70.8V228.5M70.7 228.0V224.4H70.8V225.2M70.7 224.4V224.2H70.9V227.7M70.8 224.2V223.1H71.0V225.9M70.9 223.1V212.1H71.1V220.7M71.0 212.1V210.9H71.2V233.5M71.1 210.9V210.7H71.3V218.1M71.2 210.7V210.5H71.3V225.1M71.2 210.5V209.6H71.3V244.4M71.5 223.6V219.8H71.6V223.4M71.6 219.8V218.6H71.7V222.3M71.5 221.6V217.6H71.6V218.6M71.4 220.3V217.2H71.5V217.6M71.4 218.7V215.7H71.5V217.2M71.8 220.7V216.6H71.9V220.6M71.7 218.5V215.5H71.8V216.6M71.8 215.5V215.2H71.9V218.8M71.7 216.9V214.0H71.8V215.2M71.4 215.7V210.5H71.8V214.0M72.0 218.6V215.6H72.1V218.7M72.0 215.6V214.6H72.1V217.9M72.1 214.6V213.6H72.2V217.3M71.6 210.5V210.0H72.1V213.6M71.9 210.0V209.8H72.3V225.7M71.3 209.6V209.4H72.1V209.8M70.2 209.6V209.0H71.7V209.4M69.6 209.3V208.5H70.9V209.0M67.3 210.2V208.3H70.3V208.5M65.9 208.8V208.1H68.8V208.3M65.1 240.2V207.3H67.3V208.1M66.2 207.3V206.5H81.2V207.6M60.0 221.0V218.2H60.1V221.5M60.3 222.2V219.2H60.4V222.1M60.3 219.2V218.0H60.4V221.3M60.4 218.0V217.3H60.4V220.5M60.4 217.3V216.6H60.5V220.7M60.4 216.6V216.3H60.6V219.1M60.2 219.0V215.0H60.5V216.3M60.3 215.0V209.1H60.7V238.7M61.0 218.9V215.4H61.0V218.5M60.9 218.6V215.2H61.0V215.4M60.8 217.5V213.9H60.9V215.2M60.7 216.8V213.2H60.9V213.9M60.5 209.1V208.2H60.8V213.2M61.3 219.0V215.7H61.3V219.0M61.3 215.7V215.5H61.4V218.7M61.4 215.5V214.5H61.5V217.4M61.5 229.1V225.4H61.6V229.2M61.8 238.0V234.3H62.0V238.4M61.7 236.4V233.3H61.9V234.3M61.8 233.3V232.4H62.1V235.4M61.6 225.4V211.9H61.9V232.4M62.1 221.1V217.6H62.2V221.6M62.5 226.5V222.8H62.6V226.9M62.6 237.6V234.6H62.7V237.8M62.7 234.6V233.5H62.8V236.9M62.7 233.5V233.1H62.8V236.7M62.8 233.1V232.7H62.8V236.3M62.8 232.7V231.4H63.0V235.4M62.5 222.8V215.4H62.9V231.4M62.4 228.6V214.6H62.7V215.4M62.5 214.6V213.9H63.0V224.4M62.8 213.9V212.9H63.1V223.9M62.3 219.4V212.7H62.9V212.9M63.2 222.6V219.6H63.3V222.8M63.2 219.6V219.2H63.4V222.6M63.1 221.9V218.7H63.3V219.2M63.5 244.8V241.6H63.6V244.8M63.5 243.7V240.2H63.6V241.6M63.7 220.1V216.9H63.9V220.7M63.5 240.2V213.9H63.8V216.9M63.7 213.9V213.6H64.0V222.5M64.1 223.5V220.3H64.2V224.2M64.0 221.9V219.0H64.2V220.3M64.1 219.0V217.6H64.3V221.4M64.2 217.6V216.7H64.3V220.7M63.8 213.6V213.4H64.3V216.7M63.4 218.7V213.1H64.0V213.4M63.2 218.7V212.4H63.7V213.1M62.6 212.7V212.2H63.5V212.4M62.1 217.6V211.5H63.0V212.2M61.7 211.9V211.0H62.6V211.5M61.4 214.5V210.8H62.2V211.0M64.6 220.1V216.1H64.7V219.0M64.7 216.1V215.0H64.8V218.1M64.5 217.0V214.1H64.7V215.0M64.6 214.1V213.3H64.8V217.1M64.4 216.8V212.8H64.7V213.3M64.4 215.9V212.2H64.6V212.8M61.8 210.8V208.7H64.5V212.2M61.1 219.2V208.0H63.1V208.7M60.7 208.2V207.4H62.1V208.0M64.9 217.9V215.0H65.0V218.5M61.4 207.4V206.9H65.0V215.0M60.0 218.2V206.7H63.2V206.9M61.6 206.7V206.0H73.7V206.5M51.7 227.2V223.6H51.8V227.6M51.6 225.6V222.6H51.7V223.6M51.6 225.4V222.3H51.6V222.6M51.6 222.3V222.0H51.8V225.6M51.5 224.1V221.2H51.7V222.0M51.9 228.6V224.7H52.0V228.1M52.0 224.7V223.3H52.2V227.1M52.1 223.3V222.0H52.2V224.8M52.3 226.9V223.1H52.5V226.7M52.4 223.1V222.4H52.5V225.3M52.2 222.0V216.4H52.5V222.4M52.3 216.4V215.7H52.6V233.1M52.4 215.7V215.0H52.6V231.0M51.9 246.8V213.8H52.5V215.0M51.8 242.1V212.7H52.2V213.8M52.0 212.7V210.3H52.6V229.4M51.6 221.2V210.1H52.3V210.3M51.4 247.0V209.4H52.0V210.1M51.7 209.4V209.2H52.7V233.2M52.9 225.0V221.4H53.1V224.3M52.9 224.0V221.0H53.0V221.4M52.9 221.0V220.3H53.2V223.7M52.8 222.2V218.8H53.1V220.3M52.8 245.7V210.4H53.0V218.8M53.3 233.0V230.1H53.4V233.6M53.3 232.2V228.9H53.3V230.1M53.5 262.3V259.0H53.6V262.7M53.6 261.7V258.7H53.7V261.9M53.5 259.0V257.6H53.7V258.7M53.6 257.6V256.8H53.8V260.0M53.3 228.9V210.4H53.7V256.8M54.0 222.9V219.8H54.1V223.4M54.0 223.2V219.2H54.1V219.8M53.9 222.5V218.9H54.0V219.2M54.0 218.9V218.0H54.2V221.2M54.4 231.6V228.4H54.5V231.9M54.4 228.4V227.9H54.5V231.2M54.5 227.9V227.2H54.6V230.4M54.3 228.9V225.8H54.5V227.2M54.1 218.0V210.5H54.4V225.8M54.8 236.3V233.1H54.9V236.4M54.7 235.4V231.9H54.9V233.1M54.2 210.5V210.3H54.8V231.9M53.5 210.4V209.9H54.5V210.3M52.9 210.4V209.7H54.0V209.9M55.0 230.9V227.6H55.1V230.5M53.4 209.7V209.4H55.1V227.6M52.2 209.2V208.3H54.2V209.4M55.2 237.2V233.8H55.3V237.6M55.3 233.8V232.7H55.4V236.2M53.2 208.3V207.6H55.3V232.7M55.4 216.8V213.0H55.5V215.9M54.3 207.6V205.6H55.4V213.0M55.8 221.7V218.5H55.8V221.7M55.7 221.4V217.5H55.8V218.5M56.0 224.7V221.8H56.1V225.2M56.0 221.8V220.9H56.2V224.3M56.1 220.9V220.0H56.4V223.5M56.0 221.8V219.0H56.2V220.0M55.8 217.5V207.6H56.1V219.0M55.6 215.6V207.4H55.9V207.6M56.5 224.7V221.4H56.6V224.8M56.5 221.4V220.1H56.7V223.2M55.8 207.4V206.5H56.6V220.1M56.9 269.4V265.5H57.0V269.5M56.9 265.5V264.5H57.1V267.8M56.8 266.6V263.4H57.0V264.5M57.3 231.9V229.1H57.3V233.1M57.3 229.1V228.6H57.4V232.6M57.2 231.3V227.4H57.3V228.6M57.1 230.3V226.2H57.3V227.4M57.5 249.8V246.0H57.6V249.3M57.4 247.9V244.6H57.5V246.0M57.4 247.5V243.7H57.5V244.6M57.2 226.2V209.7H57.4V243.7M56.9 263.4V209.2H57.3V209.7M57.9 219.9V216.4H57.9V219.5M58.0 231.5V228.5H58.1V231.9M58.0 231.8V227.9H58.1V228.5M58.1 227.9V226.7H58.2V230.7M58.0 229.5V225.6H58.1V226.7M58.1 225.6V224.4H58.3V228.5M57.9 216.4V209.7H58.2V224.4M57.7 262.7V209.5H58.0V209.7M58.3 243.0V239.9H58.4V242.8M58.4 239.9V239.6H58.5V243.1M57.9 209.5V209.3H58.4V239.6M58.6 237.4V233.7H58.7V236.9M58.5 236.2V233.0H58.6V233.7M58.6 233.0V231.7H58.7V234.6M58.2 209.3V209.0H58.6V231.7M58.8 224.1V221.0H58.9V224.8M58.9 266.7V262.9H59.0V266.7M59.2 257.8V253.9H59.3V258.0M59.5 252.8V249.4H59.6V252.4M59.4 250.9V247.9H59.5V249.4M59.4 247.9V247.6H59.7V251.4M59.2 253.9V211.3H59.6V247.6M59.0 262.9V209.8H59.4V211.3M58.8 221.0V209.6H59.2V209.8M58.4 209.0V208.5H59.0V209.6M59.8 260.8V257.4H59.9V261.3M58.7 208.5V208.1H59.9V257.4M57.1 209.2V206.8H59.3V208.1M56.2 206.5V206.2H58.2V206.8M54.9 205.6V205.4H57.2V206.2M56.0 205.4V204.3H67.6V206.0M43.9 229.9V226.9H44.0V230.8M44.0 226.9V226.0H44.1V229.4M44.0 226.0V225.2H44.2V228.0M44.3 262.8V258.9H44.4V262.4M44.4 258.9V258.4H44.4V261.2M44.4 258.4V257.5H44.5V260.7M44.5 257.5V256.3H44.5V259.9M44.5 256.3V256.0H44.6V259.0M44.7 225.9V222.4H44.8V226.2M44.6 226.0V222.0H44.7V222.4M45.1 237.9V234.3H45.2V238.2M45.0 236.8V233.2H45.1V234.3M45.0 235.9V231.8H45.1V233.2M44.9 233.7V230.3H45.0V231.8M44.7 222.0V210.9H45.0V230.3M44.8 210.9V209.4H45.2V220.9M45.0 209.4V209.2H45.3V218.2M44.5 256.0V207.9H45.2V209.2M45.5 221.1V217.9H45.6V221.0M45.4 220.4V217.3H45.5V217.9M45.4 220.5V217.0H45.5V217.3M45.4 217.0V215.5H45.7V218.4M45.8 244.5V241.7H45.9V244.8M45.8 243.2V240.2H45.9V241.7M45.7 242.9V239.0H45.8V240.2M45.6 215.5V208.2H45.8V239.0M45.4 236.7V208.0H45.7V208.2M45.5 208.0V207.8H46.0V235.5M45.3 216.5V207.0H45.7V207.8M44.8 207.9V206.5H45.5V207.0M46.1 224.8V220.9H46.2V224.7M46.5 236.0V232.4H46.6V235.6M46.5 232.4V232.1H46.6V235.5M46.6 232.1V230.7H46.7V234.2M46.4 233.3V229.5H46.6V230.7M46.5 229.5V215.6H46.8V254.9M46.6 215.6V215.3H46.8V224.4M46.7 215.3V209.0H46.9V244.6M46.1 220.9V208.2H46.8V209.0M45.2 206.5V205.3H46.5V208.2M44.1 225.2V204.0H45.8V205.3M45.0 204.0V203.8H47.0V211.9M47.3 217.6V214.2H47.4V217.2M47.3 214.2V213.4H47.4V216.5M47.4 213.4V212.9H47.5V216.0M47.2 216.3V212.5H47.4V212.9M47.6 220.9V217.5H47.7V220.8M47.5 220.1V216.7H47.6V217.5M47.6 216.7V215.2H47.7V218.1M47.6 215.2V214.9H47.8V217.9M47.3 212.5V205.0H47.7V214.9M47.9 224.2V220.5H47.9V224.0M48.3 227.5V223.8H48.4V227.8M48.3 223.8V223.4H48.5V226.5M48.4 223.4V222.5H48.5V225.7M48.4 222.5V221.5H48.5V224.9M48.5 221.5V220.1H48.6V223.0M48.2 221.5V218.6H48.5V220.1M48.2 222.0V218.2H48.4V218.6M48.1 222.7V209.4H48.3V218.2M47.9 220.5V209.1H48.2V209.4M48.6 233.8V229.9H48.7V233.8M48.7 229.9V229.6H48.8V233.0M49.1 252.9V249.8H49.2V253.2M49.3 252.4V249.6H49.4V253.3M49.4 249.6V248.6H49.4V252.6M49.1 249.8V248.4H49.4V248.6M49.0 250.7V247.9H49.3V248.4M49.5 242.4V238.9H49.6V242.7M49.4 241.7V238.1H49.5V238.9M49.5 238.1V236.7H49.6V240.6M49.1 247.9V208.7H49.6V236.7M48.9 250.1V208.5H49.3V208.7M48.7 229.6V208.0H49.1V208.5M48.0 209.1V207.8H48.9V208.0M49.8 261.7V257.7H49.9V261.0M49.7 260.0V256.9H49.9V257.7M50.3 247.3V244.2H50.3V247.7M50.2 246.0V243.1H50.3V244.2M50.2 243.1V242.9H50.4V245.8M50.1 245.7V242.3H50.3V242.9M50.0 245.1V241.9H50.2V242.3M50.1 241.9V209.9H50.4V238.4M49.8 256.9V209.7H50.3V209.9M50.5 228.3V225.5H50.6V228.7M50.5 225.5V224.7H50.7V228.0M50.0 209.7V209.5H50.6V224.7M49.7 217.1V209.0H50.3V209.5M48.5 207.8V207.6H50.0V209.0M49.2 207.6V205.6H50.8V221.0M50.0 205.6V205.0H50.9V246.3M47.5 205.0V204.8H50.5V205.0M51.2 230.1V226.0H51.3V228.8M51.1 228.8V225.0H51.3V226.0M51.0 226.7V223.9H51.2V225.0M49.0 204.8V204.0H51.1V223.9M46.0 203.8V203.6H50.0V204.0M48.0 203.6V202.5H61.8V204.3M37.1 219.1V215.7H37.2V218.5M37.2 215.7V214.7H37.3V218.2M37.0 216.9V213.2H37.2V214.7M37.1 213.2V212.0H37.3V215.7M37.4 255.4V252.4H37.5V256.1M37.5 252.4V251.5H37.6V254.6M37.6 251.5V250.8H37.7V253.7M37.2 212.0V203.0H37.6V250.8M37.4 203.0V200.3H37.8V237.1M38.1 231.4V228.6H38.2V231.8M38.0 231.7V228.1H38.2V228.6M38.0 230.8V227.4H38.1V228.1M37.9 229.9V226.1H38.1V227.4M38.0 226.1V225.8H38.3V229.0M38.4 218.7V215.6H38.5V218.9M38.2 225.8V207.8H38.5V215.6M37.9 234.3V207.2H38.3V207.8M37.9 248.6V207.0H38.1V207.2M38.7 265.6V261.8H38.8V265.0M38.9 238.2V234.1H39.0V238.0M38.9 234.1V232.7H39.0V236.2M39.3 242.7V239.9H39.4V243.9M39.2 242.1V239.3H39.3V239.9M39.2 242.5V238.6H39.3V239.3M39.2 242.0V238.0H39.3V238.6M39.2 238.0V236.9H39.5V240.2M39.4 236.9V236.6H39.5V240.4M39.4 236.6V236.3H39.6V240.2M39.1 231.8V211.9H39.5V236.3M39.0 232.7V211.4H39.3V211.9M39.1 211.4V210.5H39.6V236.6M38.7 261.8V209.8H39.4V210.5M39.8 245.9V242.8H39.9V245.6M39.7 245.9V242.5H39.8V242.8M39.7 245.5V241.9H39.7V242.5M39.1 209.8V209.3H39.7V241.9M40.1 230.1V226.5H40.2V229.9M40.2 226.5V226.1H40.3V229.4M40.1 228.7V224.8H40.2V226.1M40.0 227.5V224.0H40.1V224.8M40.1 224.0V223.0H40.3V227.1M40.2 223.0V222.5H40.4V226.2M39.4 209.3V208.5H40.3V222.5M38.6 216.2V206.7H39.8V208.5M38.0 207.0V206.5H39.2V206.7M38.6 206.5V206.0H40.5V230.4M40.7 236.6V232.9H40.8V236.8M40.6 235.3V231.7H40.7V232.9M40.7 231.7V230.4H40.9V234.3M40.6 233.0V229.1H40.8V230.4M41.1 250.4V247.2H41.2V250.3M41.1 247.2V246.4H41.3V250.0M41.1 248.4V245.3H41.2V246.4M41.1 247.4V244.4H41.1V245.3M41.0 247.5V243.7H41.1V244.4M41.0 247.4V243.4H41.1V243.7M40.9 246.0V243.1H41.0V243.4M40.7 229.1V209.6H41.0V243.1M41.4 221.3V218.3H41.5V222.1M41.5 218.3V217.0H41.6V221.1M41.6 217.0V216.7H41.6V220.8M41.4 218.7V215.5H41.6V216.7M41.5 215.5V215.0H41.7V218.0M41.3 218.0V214.7H41.6V215.0M40.8 209.6V209.0H41.5V214.7M41.1 209.0V208.2H41.8V216.3M41.5 208.2V205.9H41.9V212.8M41.9 218.0V214.0H42.0V217.3M41.9 216.1V212.5H42.0V214.0M41.9 215.1V211.1H42.0V212.5M41.9 211.1V210.7H42.1V214.2M41.7 205.9V205.4H42.0V210.7M42.3 223.5V220.4H42.4V224.2M42.3 220.4V220.0H42.4V223.2M42.7 231.2V227.4H42.8V230.7M42.6 230.4V227.0H42.8V227.4M42.7 227.0V226.4H42.8V230.4M42.8 226.4V225.0H42.9V228.0M42.6 228.2V224.8H42.8V225.0M42.5 227.2V223.4H42.7V224.8M42.9 231.4V227.9H43.0V230.7M43.0 227.9V226.8H43.1V230.9M42.6 223.4V209.2H43.0V226.8M43.2 238.0V234.2H43.3V238.1M42.8 209.2V208.8H43.3V234.2M42.4 220.0V206.4H43.0V208.8M41.8 205.4V205.2H42.7V206.4M39.5 206.0V205.0H42.3V205.2M43.5 263.8V260.7H43.6V263.8M43.4 264.1V260.3H43.5V260.7M43.5 260.3V259.7H43.7V262.6M43.6 259.7V258.2H43.8V261.5M40.9 205.0V204.3H43.7V258.2M37.6 200.3V200.1H42.3V204.3M40.0 200.1V199.6H54.9V202.5M148.1 319.4V315.9H148.2V319.4M148.1 318.0V315.0H148.1V315.9M148.1 315.0V313.9H148.3V317.4M148.4 316.7V313.6H148.5V317.2M148.4 313.6V312.2H148.6V315.2M148.2 313.9V311.9H148.5V312.2M148.0 315.1V311.7H148.4V311.9M148.2 311.7V311.5H148.7V314.5M148.8 317.5V314.3H148.9V317.1M148.8 314.3V314.0H149.0V317.7M148.7 317.5V313.6H148.9V314.0M148.4 311.5V311.3H148.8V313.6M149.1 320.3V316.7H149.2V320.7M149.2 316.7V315.3H149.3V318.2M149.2 315.3V315.1H149.3V318.5M149.5 320.6V317.4H149.5V321.2M149.5 317.4V316.3H149.6V319.5M149.5 316.3V315.2H149.7V318.4M149.8 319.3V315.8H149.9V318.8M149.8 318.3V314.5H149.8V315.8M149.8 314.5V314.3H150.0V317.7M149.6 315.2V312.9H149.9V314.3M149.7 312.9V312.7H150.0V316.9M149.4 316.3V312.5H149.9V312.7M149.3 317.2V312.3H149.6V312.5M150.1 316.6V313.3H150.2V316.3M150.1 313.3V313.0H150.3V316.6M150.4 317.7V314.3H150.5V318.3M150.3 317.0V313.0H150.5V314.3M150.2 313.0V312.3H150.4V313.0M149.5 312.3V312.1H150.3V312.3M149.2 315.1V311.9H149.9V312.1M150.6 321.0V317.7H150.7V321.3M150.7 317.7V317.0H150.8V319.9M150.6 319.3V315.7H150.8V317.0M149.6 311.9V311.7H150.7V315.7M151.0 318.7V315.6H151.1V318.9M151.1 315.6V315.1H151.2V317.9M151.1 315.1V314.0H151.2V316.9M150.9 315.5V312.6H151.1V314.0M150.1 311.7V311.5H151.0V312.6M151.3 322.2V318.2H151.4V321.1M150.6 311.5V311.3H151.3V318.2M148.6 311.3V311.1H150.9V311.3M151.4 319.9V316.5H151.5V319.7M151.4 316.5V315.3H151.6V318.3M151.5 315.3V314.1H151.7V317.6M151.6 314.1V313.8H151.7V317.1M151.8 316.4V312.7H151.9V316.2M151.7 313.8V311.5H151.9V312.7M151.8 311.5V311.3H152.0V314.8M152.2 320.8V317.4H152.3V320.6M152.3 317.4V316.8H152.4V320.4M152.3 316.8V315.5H152.4V318.6M152.2 318.3V314.4H152.4V315.5M152.1 317.0V313.6H152.3V314.4M151.9 311.3V311.1H152.2V313.6M149.8 311.1V310.9H152.0V311.1M152.6 319.3V316.4H152.7V320.1M152.5 319.0V315.6H152.6V316.4M152.5 315.6V314.2H152.7V317.7M152.6 314.2V314.0H152.8V317.3M153.0 319.3V316.2H153.0V319.2M152.9 319.4V315.4H153.0V316.2M152.9 315.4V314.6H153.1V317.5M153.0 314.6V314.3H153.1V317.9M153.1 314.3V313.6H153.2V317.6M153.3 327.4V324.0H153.4V327.5M153.3 324.0V323.6H153.5V326.6M153.4 323.6V322.3H153.6V325.6M153.1 313.6V311.8H153.5V322.3M153.7 318.1V314.8H153.8V318.8M153.7 314.8V314.2H153.8V318.2M153.9 318.4V315.4H154.1V319.1M154.2 324.3V320.4H154.3V324.2M154.3 320.4V319.3H154.4V322.4M154.3 319.3V318.7H154.5V321.6M154.4 318.7V318.3H154.5V321.2M154.2 320.7V317.2H154.5V318.3M154.0 315.4V312.0H154.3V317.2M153.8 314.2V311.8H154.2V312.0M153.3 311.8V311.6H154.0V311.8M152.7 314.0V310.9H153.6V311.6M150.9 310.9V310.7H153.2V310.9M154.9 322.8V318.8H155.0V322.5M155.0 318.8V317.4H155.1V321.4M155.0 317.4V316.3H155.2V319.6M154.8 318.9V315.2H155.1V316.3M154.7 320.2V314.1H155.0V315.2M154.8 314.1V313.9H155.2V318.0M154.7 323.0V313.6H155.0V313.9M154.8 313.6V313.4H155.3V324.5M155.4 320.5V316.5H155.5V320.1M155.3 319.7V316.2H155.4V316.5M155.5 320.7V316.7H155.6V319.9M155.5 319.4V316.1H155.6V316.7M155.4 316.2V315.1H155.5V316.1M155.1 313.4V313.2H155.4V315.1M155.7 325.4V321.9H155.8V325.5M155.9 325.6V322.3H156.0V325.3M155.9 325.8V322.0H156.0V322.3M155.8 321.9V321.0H155.9V322.0M155.2 313.2V313.0H155.8V321.0M156.1 324.4V321.3H156.2V324.8M155.5 313.0V312.2H156.1V321.3M156.4 318.8V315.8H156.5V319.2M156.3 318.3V314.4H156.5V315.8M155.8 312.2V312.0H156.4V314.4M154.6 318.3V311.4H156.1V312.0M156.6 316.9V312.9H156.7V316.7M155.4 311.4V311.2H156.7V312.9M152.0 310.7V310.5H156.0V311.2M147.6 309.7H156.8V316M147.7 315.1V307.4H154.0V310.5M147.4 312.2V307.0H150.9V307.4M147.1 309.6V306.5H149.1V307.0M146.8 308.9V306.1H148.1V306.5M146.5 309.7V305.6H147.5V306.1M146.2 309.3V305.0H147.0V305.6M145.9 307.6V304.4H146.6V305.0M145.6 308.3V303.7H146.2V304.4M145.3 306.8V303.0H145.9V303.7M145.0 306.9V302.3H145.6V303.0M144.7 304.2V301.6H145.3V302.3M144.4 305.7V300.9H145.0V301.6M144.1 305.4V300.2H144.7V300.9M143.8 302.5V299.6H144.4V300.2M143.5 303.7V298.9H144.1V299.6M143.2 301.1V298.2H143.8V298.9M142.9 302.4V297.5H143.5V298.2M142.6 301.6V296.8H143.2V297.5M142.3 300.8V296.1H142.9V296.8M142.0 298.2V295.4H142.6V296.1M141.7 297.6V294.7H142.3V295.4M141.4 297.6V294.1H142.0V294.7M141.1 296.3V293.4H141.7V294.1M140.8 295.9V292.7H141.4V293.4M140.5 298.4V292.0H141.1V292.7M140.2 296.8V291.2H140.8V292.0M139.9 293.3V290.5H140.5V291.2M139.6 292.5V289.7H140.2V290.5M139.3 293.4V288.9H139.9V289.7M139.0 291.8V288.2H139.6V288.9M138.7 290.0V287.4H139.3V288.2M138.4 293.1V286.7H139.0V287.4M138.1 288.7V285.9H138.7V286.7M137.8 287.8V285.1H138.4V285.9M137.5 289.6V284.4H138.1V285.1M137.2 288.3V283.6H137.8V284.4M136.9 285.6V282.8H137.5V283.6M136.6 285.7V282.1H137.2V282.8M136.3 287.3V281.3H136.9V282.1M136.0 289.8V280.5H136.6V281.3M135.7 285.2V279.8H136.3V280.5M135.4 283.8V279.0H136.0V279.8M135.1 284.2V278.3H135.7V279.0M134.8 280.7V277.5H135.4V278.3M134.6 282.6V279.1H134.6V281.4M133.9 286.4V284.7H133.9V292.0M134.4 282.0V279.1H134.5V281.2M134.4 282.7V278.0H134.5V279.1M134.6 279.1V278.0H134.7V280.0M133.9 284.7V283.7H134.2V286.1M133.0 283.5V283.0H133.2V287.0M132.6 279.7V278.0H133.1V283.0M132.9 278.0V278.0H133.3V284.8M134.5 281.6V279.3H134.5V283.4M133.7 289.4V287.4H133.7V290.6M134.4 278.0V278.0H134.5V279.3M134.5 278.0V278.0H134.7V278.0M133.1 278.0V278.0H133.7V287.4M133.7 287.8V281.8H134.0V283.7M133.4 278.0V278.0H133.9V281.8M133.6 278.0V278.0H134.3V282.8M134.0 278.0V278.0H134.6V278.0M134.3 278.0V276.7H135.1V277.5M134.2 280.1V275.9H134.7V276.7M133.9 277.9V275.1H134.4V275.9M133.6 277.1V274.3H134.2V275.1M133.3 278.6V273.5H133.9V274.3M133.0 275.8V272.7H133.6V273.5M132.7 274.6V271.9H133.3V272.7M132.4 274.1V271.1H133.0V271.9M132.1 273.3V270.3H132.7V271.1M131.8 274.3V269.5H132.4V270.3M131.5 271.5V268.7H132.1V269.5M131.2 271.1V268.0H131.8V268.7M130.3 281.2V280.0H130.4V281.0M130.8 277.6V273.5H130.9V275.9M130.0 272.8V271.3H130.1V275.6M130.3 276.0V275.3H130.3V280.0M131.1 272.0V269.3H131.1V271.8M130.0 271.3V270.3H130.3V275.3M129.9 272.6V270.5H129.9V271.9M130.6 285.0V271.6H130.8V273.5M130.7 271.6V268.5H131.1V269.3M130.2 270.3V268.5H130.9V268.5M129.9 270.5V268.5H130.6V268.5M130.2 268.5V267.2H131.5V268.0M130.6 270.4V266.5H130.9V267.2M130.3 270.9V265.7H130.7V266.5M130.0 268.7V265.0H130.5V265.7M129.7 267.0V264.2H130.3V265.0M129.4 267.5V263.5H130.0V264.2M129.1 265.7V262.7H129.7V263.5M128.8 266.7V262.1H129.4V262.7M128.5 266.7V261.4H129.1V262.1M128.2 264.1V260.8H128.8V261.4M127.9 264.2V260.1H128.5V260.8M127.6 262.1V259.5H128.2V260.1M127.3 262.4V258.8H127.9V259.5M127.3 267.7V264.9H127.4V267.2M126.5 291.0V288.9H126.7V295.0M125.8 269.5V265.3H125.8V267.5M126.7 285.8V272.8H126.8V274.1M126.8 278.8V268.6H127.0V270.8M125.8 265.3V264.1H125.8V270.6M127.2 270.7V263.9H127.3V264.9M125.8 264.1V263.6H125.9V271.2M126.0 271.4V270.0H126.1V278.8M126.9 268.6V261.8H127.2V263.9M126.8 272.8V260.3H127.1V261.8M126.6 288.9V260.0H126.9V260.3M126.1 270.0V259.5H126.8V260.0M125.9 263.6V259.5H126.4V259.5M126.1 259.5V258.2H127.6V258.8M126.7 260.3V257.5H126.9V258.2M126.4 261.0V256.9H126.8V257.5M126.1 259.9V256.2H126.6V256.9M125.8 259.8V255.7H126.3V256.2M125.5 258.5V255.1H126.1V255.7M125.2 257.3V254.6H125.8V255.1M124.9 257.1V254.1H125.5V254.6M124.6 257.3V253.6H125.2V254.1M124.3 255.9V253.1H124.9V253.6M123.3 263.2V261.6H123.4V269.4M123.8 263.2V260.7H123.8V263.7M122.8 259.2V258.0H122.8V260.2M123.1 261.3V261.0H123.2V262.8M122.6 256.3V254.0H122.8V258.0M123.1 261.0V258.9H123.3V269.0M124.0 261.3V259.2H124.2V260.9M123.6 275.0V261.8H123.8V263.7M122.7 254.0V253.9H123.0V264.7M123.3 261.6V260.5H123.7V261.8M123.8 260.7V257.0H124.1V259.2M122.9 253.9V253.9H123.2V258.9M123.5 260.5V255.0H123.9V257.0M123.0 253.9V253.9H123.7V255.0M123.4 253.9V252.6H124.6V253.1M123.7 255.1V252.0H124.0V252.6M123.4 254.2V251.5H123.8V252.0M123.1 256.0V251.0H123.6V251.5M122.8 253.5V250.5H123.4V251.0M122.5 252.6V250.0H123.1V250.5M122.2 252.8V249.4H122.8V250.0M121.9 253.1V248.9H122.5V249.4M121.6 251.2V248.4H122.2V248.9M120.6 272.1V267.9H120.7V268.6M120.6 267.9V267.2H120.9V282.2M120.5 274.8V273.3H120.6V279.6M121.2 260.7V258.7H121.3V265.9M120.1 256.4V254.0H120.5V273.3M120.9 289.0V270.0H121.1V271.5M121.0 270.0V256.3H121.3V258.7M120.8 267.2V255.3H121.1V256.3M120.6 277.5V253.4H121.0V255.3M120.1 256.3V252.8H120.3V254.0M120.2 252.8V251.0H120.8V253.4M120.5 251.0V247.8H121.9V248.4M121.0 250.3V247.3H121.2V247.8M120.7 251.1V246.8H121.1V247.3M120.4 251.9V246.2H120.9V246.8M120.1 248.9V245.7H120.7V246.2M119.8 248.0V245.2H120.4V245.7M119.5 247.4V244.7H120.1V245.2M119.2 247.3V244.1H119.8V244.7M118.9 246.4V243.6H119.5V244.1M118.6 246.0V243.1H119.2V243.6M117.4 262.6V260.4H117.4V268.7M117.7 261.0V258.6H117.7V264.0M118.4 250.1V249.8H118.4V250.9M118.2 260.3V250.4H118.3V252.4M118.4 249.8V248.6H118.5V251.2M117.8 279.0V261.1H117.9V263.0M117.4 260.4V257.7H117.7V258.6M116.9 256.1V255.4H117.3V267.1M117.9 261.1V257.8H118.0V260.3M117.1 255.4V253.8H117.5V257.7M118.2 250.4V249.1H118.4V250.1M118.3 249.1V247.8H118.4V248.6M117.9 257.8V246.2H118.4V247.8M117.3 253.8V243.8H118.2V246.2M117.7 243.8V242.5H118.9V243.1M118.0 245.2V242.0H118.3V242.5M117.7 244.3V241.6H118.2V242.0M117.4 243.8V241.2H117.9V241.6M117.1 244.1V240.8H117.7V241.2M116.8 246.5V240.3H117.4V240.8M116.5 245.9V239.9H117.1V240.3M116.2 243.6V239.5H116.8V239.9M115.9 242.0V239.1H116.5V239.5M115.6 241.9V238.7H116.2V239.1M115.3 241.2V238.3H115.9V238.7M115.0 241.2V237.9H115.6V238.3M114.7 241.8V237.5H115.3V237.9M114.4 239.7V237.0H115.0V237.5M114.1 240.1V236.6H114.7V237.0M113.4 279.0V261.2H113.4V263.6M112.4 247.1V246.4H112.5V248.7M113.2 263.6V259.5H113.4V261.2M113.6 258.0V254.5H113.7V255.2M113.0 267.4V259.1H113.3V259.5M112.6 253.4V249.6H112.7V251.3M112.6 249.6V248.8H112.8V256.3M112.5 246.4V244.3H112.7V248.8M112.6 244.3V242.7H112.9V257.9M113.5 267.9V252.6H113.6V254.5M112.7 242.7V240.3H113.2V259.1M113.7 250.2V247.7H113.9V253.8M112.9 240.3V238.9H113.5V252.6M113.2 238.9V237.5H113.8V247.7M113.5 237.5V236.2H114.4V236.6M113.5 238.7V235.7H114.0V236.2M113.2 239.4V235.2H113.7V235.7M112.9 239.2V234.7H113.5V235.2M112.6 236.8V234.2H113.2V234.7M112.3 237.0V233.7H112.9V234.2M112.0 236.2V233.2H112.6V233.7M111.7 237.4V232.7H112.3V233.2M111.4 234.9V232.2H112.0V232.7M111.1 235.6V231.7H111.7V232.2M110.8 233.8V231.2H111.4V231.7M110.5 234.5V230.7H111.1V231.2M110.2 233.7V230.3H110.8V230.7M109.9 235.6V229.8H110.5V230.3M109.6 237.2V229.4H110.2V229.8M109.4 246.9V236.6H109.6V237.6M108.9 274.0V258.5H109.0V259.0M109.0 258.5V251.0H109.1V251.5M108.2 247.5V246.3H108.4V255.8M108.3 246.3V244.6H108.5V256.8M108.8 252.8V250.4H108.8V259.1M108.8 250.4V249.1H108.9V259.0M108.6 259.8V253.6H108.6V253.9M109.3 252.2V236.1H109.5V236.6M108.6 253.6V247.9H108.9V249.1M109.2 248.7V235.6H109.4V236.1M108.4 244.6V242.6H108.7V247.9M109.0 251.0V233.5H109.3V235.6M108.6 242.6V232.0H109.2V233.5M108.9 232.0V228.9H109.9V229.4M109.0 231.8V228.5H109.4V228.9M108.7 231.9V228.0H109.2V228.5M108.4 232.2V227.6H108.9V228.0M108.1 229.9V227.1H108.7V227.6M107.8 229.8V226.7H108.4V227.1M107.5 229.7V226.2H108.1V226.7M47.4 199.6V209.5H107.8V226.2M208.4 228.2V224.6H208.5V228.3M208.7 229.3V225.5H208.8V229.0M208.6 229.3V225.3H208.8V225.5M208.6 228.4V224.5H208.7V225.3M208.5 224.6V223.6H208.6V224.5M209.0 252.7V249.9H209.1V252.9M209.1 249.9V249.4H209.2V253.4M209.1 249.4V248.6H209.2V252.4M208.9 251.4V248.2H209.2V248.6M208.6 223.6V217.9H209.0V248.2M208.3 222.3V215.5H208.8V217.9M209.4 226.1V222.2H209.5V226.2M209.9 247.3V244.0H210.0V247.7M209.8 247.2V243.6H209.9V244.0M209.7 245.9V242.9H209.9V243.6M209.7 245.1V242.0H209.8V242.9M209.7 242.0V240.8H210.1V244.6M209.9 240.8V231.3H210.2V261.3M209.6 238.7V222.0H210.1V231.3M209.4 222.2V216.7H209.8V222.0M209.6 216.7V216.2H210.3V246.9M209.3 240.0V216.0H209.9V216.2M210.4 263.5V259.6H210.5V263.2M210.5 259.6V258.4H210.7V261.7M210.4 260.9V257.0H210.6V258.4M210.8 246.7V243.5H210.9V247.5M210.7 245.0V242.0H210.8V243.5M211.0 246.2V242.8H211.1V245.8M210.8 242.0V241.4H211.0V242.8M211.2 244.3V241.4H211.3V245.2M211.2 241.4V241.0H211.4V244.9M211.3 241.0V240.1H211.4V243.8M211.1 242.7V238.9H211.3V240.1M210.9 241.4V231.7H211.2V238.9M211.6 255.1V251.6H211.7V255.4M211.5 254.2V250.5H211.6V251.6M211.5 250.5V249.6H211.7V252.8M211.1 231.7V231.5H211.6V249.6M211.9 253.5V249.5H212.0V252.7M211.8 252.6V248.8H211.9V249.5M211.8 251.2V248.2H211.9V248.8M211.3 231.5V230.7H211.8V248.2M211.6 230.7V230.5H212.1V236.0M210.5 257.0V230.2H211.8V230.5M210.3 257.2V227.0H211.2V230.2M210.7 227.0V225.6H212.1V239.6M212.4 252.8V249.5H212.5V252.9M212.4 249.5V249.3H212.5V252.3M212.5 249.3V248.7H212.5V252.4M212.3 250.7V247.7H212.5V248.7M212.3 251.2V247.2H212.4V247.7M212.3 250.6V246.6H212.4V247.2M212.7 244.5V241.3H212.7V244.3M212.6 244.1V240.3H212.7V241.3M213.0 251.7V248.1H213.1V251.2M212.9 250.4V246.7H213.0V248.1M212.8 250.1V246.1H212.9V246.7M212.6 240.3V233.7H212.9V246.1M212.8 233.7V230.7H213.1V240.5M212.3 246.6V228.0H212.9V230.7M212.6 228.0V225.2H213.2V249.5M212.2 243.5V224.9H212.9V225.2M211.4 225.6V223.8H212.6V224.9M213.2 237.7V234.5H213.3V237.6M213.2 236.6V233.4H213.3V234.5M213.4 237.9V234.0H213.5V237.6M213.2 233.4V233.0H213.5V234.0M213.8 243.6V239.7H213.9V242.8M213.9 239.7V239.0H213.9V241.9M213.9 239.0V238.0H214.0V241.9M213.7 241.1V237.1H213.9V238.0M213.7 239.6V236.5H213.8V237.1M213.8 236.5V235.6H214.0V238.6M213.9 235.6V235.4H214.1V238.2M213.6 247.1V225.5H214.0V235.4M213.8 225.5V225.3H214.2V236.5M213.4 233.0V221.9H214.0V225.3M212.0 223.8V221.0H213.7V221.9M214.3 246.8V243.1H214.4V246.4M214.4 243.1V242.4H214.5V246.1M214.4 242.4V241.6H214.5V244.6M214.5 241.6V241.2H214.6V244.3M214.5 241.2V240.2H214.6V243.7M214.7 241.7V238.1H214.8V241.1M214.7 238.1V237.2H214.9V240.6M214.8 237.2V236.8H215.0V239.7M215.1 240.4V236.8H215.2V240.2M215.1 236.8V236.0H215.2V239.1M214.9 236.8V230.3H215.2V236.0M214.6 240.2V230.1H215.0V230.3M214.3 236.5V225.3H214.8V230.1M214.2 228.1V220.7H214.5V225.3M215.3 249.9V246.8H215.4V249.9M215.6 233.1V229.7H215.7V232.7M215.6 229.7V228.2H215.7V231.8M215.5 230.0V227.1H215.7V228.2M215.6 227.1V226.6H215.8V230.4M215.5 229.2V226.4H215.7V226.6M215.3 246.8V223.8H215.6V226.4M215.8 238.8V235.6H215.9V238.9M215.5 223.8V220.6H215.9V235.6M214.4 220.7V220.1H215.7V220.6M212.8 221.0V218.9H215.0V220.1M209.6 216.0V215.2H213.9V218.9M208.6 215.5V215.0H211.8V215.2M216.0 243.6V239.6H216.1V243.0M216.1 239.6V239.2H216.2V243.2M216.0 242.9V238.9H216.1V239.2M216.1 238.9V238.1H216.2V241.4M216.2 238.1V236.7H216.3V240.6M210.2 215.0V210.5H216.2V236.7M201.0 251.1V247.2H201.1V251.0M200.9 249.7V246.8H201.0V247.2M200.9 246.8V246.4H201.1V249.9M200.8 249.2V245.9H201.0V246.4M201.3 253.6V250.2H201.5V253.7M201.3 253.2V249.9H201.4V250.2M201.7 254.6V250.5H201.8V253.5M201.9 253.3V249.7H202.1V253.1M201.8 250.5V249.4H202.0V249.7M202.3 254.9V251.0H202.3V254.9M202.3 251.0V250.1H202.4V253.9M202.2 252.3V249.4H202.3V250.1M202.2 249.4V248.6H202.4V252.4M202.1 251.4V247.9H202.3V248.6M201.9 249.4V247.1H202.2V247.9M202.1 247.1V246.5H202.4V249.8M201.6 252.9V245.1H202.2V246.5M201.9 245.1V243.0H202.5V253.1M201.3 249.9V240.5H202.2V243.0M201.2 242.9V237.9H201.8V240.5M202.7 249.6V246.1H202.8V250.1M202.6 248.4V245.2H202.7V246.1M202.6 248.1V244.1H202.7V245.2M202.9 249.0V245.6H203.0V249.3M203.0 245.6V244.8H203.1V247.7M202.6 244.1V243.8H203.0V244.8M202.8 243.8V241.7H203.1V247.9M203.2 250.2V247.3H203.3V250.3M203.1 250.4V246.8H203.3V247.3M202.9 241.7V240.7H203.2V246.8M203.1 240.7V240.4H203.4V244.9M203.2 240.4V240.1H203.4V251.7M201.5 237.9V237.3H203.3V240.1M201.2 238.8V234.4H202.4V237.3M203.5 237.5V233.6H203.6V236.4M203.5 236.4V233.2H203.6V233.6M203.8 258.1V254.6H203.9V258.0M203.9 254.6V254.3H204.0V257.7M203.8 256.9V253.8H203.9V254.3M203.8 253.8V252.5H204.0V256.4M203.7 254.7V251.7H203.9V252.5M204.3 242.4V238.8H204.4V242.0M204.2 241.6V238.4H204.4V238.8M204.1 241.0V237.9H204.3V238.4M203.8 251.7V231.3H204.2V237.9M203.5 233.2V229.9H204.0V231.3M201.8 234.4V228.8H203.8V229.9M202.8 228.8V220.0H204.5V250.1M200.9 245.9V218.4H203.6V220.0M204.6 239.8V236.3H204.7V240.2M204.6 239.0V235.8H204.7V236.3M205.1 239.0V236.1H205.2V240.2M205.3 242.9V238.9H205.4V242.3M205.5 255.4V251.7H205.7V254.7M205.6 251.7V251.5H205.8V255.6M205.7 251.5V250.0H205.8V254.0M205.9 260.5V257.6H206.0V261.0M206.0 257.6V257.4H206.1V261.1M205.8 250.0V234.7H206.1V257.4M205.4 238.9V232.4H205.9V234.7M205.2 236.1V232.0H205.6V232.4M205.0 241.5V225.2H205.4V232.0M204.9 260.4V220.2H205.2V225.2M205.1 220.2V220.0H206.2V246.6M204.8 239.5V218.8H205.6V220.0M204.6 235.8V214.1H205.2V218.8M206.3 229.5V226.2H206.3V229.1M206.7 237.7V233.9H206.7V237.3M206.6 236.2V233.2H206.7V233.9M206.5 235.2V232.3H206.7V233.2M206.4 236.0V232.1H206.6V232.3M206.3 226.2V213.8H206.5V232.1M204.9 214.1V213.6H206.4V213.8M206.8 223.5V220.0H207.0V223.6M207.4 236.6V233.2H207.4V236.3M207.4 233.2V231.8H207.6V235.1M207.5 231.8V231.3H207.6V234.6M207.6 231.3V230.5H207.7V234.1M207.3 242.3V224.3H207.6V230.5M207.4 224.3V221.9H207.8V260.7M207.2 225.0V218.1H207.6V221.9M207.9 240.8V237.5H208.0V241.1M207.9 237.5V237.1H208.1V240.9M208.0 237.1V236.2H208.2V239.1M207.4 218.1V217.3H208.1V236.2M207.1 248.8V216.5H207.7V217.3M206.9 220.0V214.6H207.4V216.5M205.7 213.6V210.8H207.2V214.6M202.3 218.4V207.6H206.4V210.8M204.3 207.6V207.0H213.2V210.5M195.7 234.7V231.2H195.8V234.2M195.8 231.2V230.3H195.9V233.9M195.6 232.9V229.5H195.8V230.3M195.7 229.5V228.0H195.9V231.0M196.0 254.4V251.1H196.1V254.3M195.9 253.6V250.4H196.0V251.1M196.4 252.0V248.2H196.5V251.5M196.3 250.3V246.8H196.5V248.2M196.3 250.0V246.2H196.4V246.8M196.2 248.6V245.3H196.3V246.2M196.0 250.4V238.0H196.3V245.3M196.8 249.6V245.9H196.9V249.1M196.6 249.3V245.5H196.8V245.9M196.7 245.5V244.3H197.0V247.7M196.1 238.0V236.7H196.9V244.3M197.4 263.5V260.6H197.5V264.4M197.4 260.6V260.0H197.6V263.4M197.3 262.3V258.8H197.5V260.0M197.2 250.6V238.8H197.4V258.8M197.3 238.8V238.6H197.6V258.6M197.1 248.8V232.8H197.4V238.6M197.9 255.4V251.5H198.0V255.3M197.7 254.1V250.1H197.9V251.5M198.1 248.6V245.7H198.2V249.6M198.2 245.7V245.4H198.3V248.9M197.8 250.1V241.9H198.2V245.4M198.0 241.9V240.3H198.4V254.5M197.7 246.1V239.5H198.2V240.3M197.6 241.1V234.4H197.9V239.5M197.3 232.8V232.6H197.8V234.4M196.5 236.7V231.6H197.5V232.6M198.5 242.2V238.6H198.5V241.7M197.0 231.6V225.3H198.5V238.6M195.8 228.0V219.1H197.8V225.3M198.7 220.6V216.5H198.8V220.4M198.8 216.5V215.2H198.9V218.3M198.8 215.2V214.8H199.0V218.5M198.6 217.5V213.7H198.9V214.8M198.8 213.7V213.1H199.1V216.2M199.3 257.8V253.9H199.4V257.5M199.4 253.9V253.3H199.5V256.1M199.5 253.3V252.2H199.5V255.4M199.5 252.2V251.5H199.6V254.4M199.3 254.3V250.5H199.5V251.5M199.4 250.5V249.2H199.7V252.1M199.5 249.2V226.5H199.7V235.7M199.2 244.2V226.3H199.6V226.5M200.0 254.5V251.1H200.1V254.9M200.1 251.1V250.1H200.2V253.8M199.9 253.1V249.2H200.1V250.1M199.8 252.0V248.1H200.0V249.2M200.4 240.4V237.4H200.5V240.7M200.5 237.4V236.6H200.6V240.5M200.3 239.5V235.7H200.5V236.6M200.2 238.5V235.5H200.4V235.7M199.9 248.1V231.1H200.3V235.5M200.1 231.1V223.6H200.6V241.7M199.4 226.3V223.4H200.3V223.6M199.9 223.4V215.1H200.7V222.5M200.3 215.1V212.3H200.7V233.9M199.1 232.9V208.3H200.5V212.3M198.9 213.1V207.8H199.8V208.3M196.8 219.1V207.6H199.4V207.8M198.1 207.6V206.6H208.8V207.0M189.1 214.8V211.9H189.2V215.8M189.1 214.4V211.0H189.2V211.9M189.4 242.3V238.3H189.4V241.4M189.4 238.3V237.2H189.5V241.1M189.7 240.5V237.1H189.8V241.1M189.5 237.2V235.8H189.7V237.1M189.3 246.3V219.2H189.6V235.8M189.5 219.2V217.0H189.9V231.5M189.3 229.4V216.8H189.7V217.0M190.4 240.2V236.8H190.5V240.8M190.4 236.8V235.5H190.6V238.9M190.3 239.3V235.2H190.5V235.5M190.2 237.1V233.8H190.4V235.2M190.2 236.3V232.7H190.3V233.8M190.1 241.1V223.0H190.2V232.7M190.2 223.0V222.8H190.6V231.7M190.0 231.9V219.4H190.4V222.8M190.0 241.9V218.1H190.2V219.4M189.5 216.8V215.6H190.1V218.1M190.7 235.8V232.2H190.8V235.5M190.8 232.2V231.2H190.9V234.8M191.0 237.8V234.2H191.0V238.3M191.0 234.2V232.8H191.1V236.1M190.9 236.3V232.5H191.0V232.8M191.0 232.5V231.7H191.1V234.7M190.8 231.2V230.6H191.0V231.7M190.7 235.2V221.1H190.9V230.6M191.2 245.9V242.6H191.3V246.4M191.2 245.5V242.2H191.3V242.6M191.1 244.7V241.3H191.2V242.2M190.8 221.1V220.2H191.2V241.3M191.0 220.2V219.2H191.4V238.0M191.2 219.2V217.5H191.5V225.5M191.3 217.5V215.5H191.6V222.8M189.8 215.6V214.4H191.4V215.5M191.8 237.4V234.2H191.9V238.1M191.8 234.2V233.0H191.9V237.0M191.6 235.4V232.1H191.9V233.0M191.7 232.1V231.0H192.0V234.5M190.6 214.4V213.6H191.9V231.0M192.1 243.7V240.6H192.2V244.2M192.1 240.6V240.2H192.2V243.2M192.0 242.9V239.5H192.2V240.2M192.1 239.5V239.2H192.3V242.1M192.7 241.4V238.3H192.8V241.9M192.8 242.8V239.5H192.9V242.9M192.8 243.2V239.2H192.9V239.5M193.0 242.4V239.1H193.1V242.7M192.8 239.2V238.0H193.1V239.1M192.7 238.3V234.1H193.0V238.0M192.6 239.3V233.8H192.8V234.1M192.7 233.8V233.6H193.2V237.2M193.5 239.3V235.3H193.6V238.4M193.4 238.0V235.0H193.5V235.3M193.4 236.4V233.5H193.5V235.0M193.3 235.6V232.6H193.4V233.5M193.3 234.7V231.8H193.4V232.6M193.3 231.8V231.6H193.6V235.3M193.0 233.6V229.8H193.5V231.6M193.2 229.8V229.1H193.7V233.2M192.5 234.6V227.7H193.5V229.1M193.0 227.7V226.7H193.7V244.2M192.5 230.1V224.6H193.4V226.7M192.4 228.2V221.2H192.9V224.6M193.9 232.5V228.8H194.0V232.3M193.8 232.4V228.5H193.9V228.8M194.1 238.0V234.6H194.2V237.9M194.2 234.6V233.2H194.3V237.1M193.9 228.5V225.0H194.2V233.2M193.8 235.8V224.8H194.1V225.0M192.7 221.2V219.8H193.9V224.8M193.3 219.8V218.6H194.4V227.5M192.3 230.4V214.9H193.9V218.6M192.2 239.2V213.9H193.1V214.9M191.2 213.6V211.7H192.6V213.9M194.7 252.6V249.3H194.8V252.7M194.7 251.7V248.7H194.8V249.3M194.6 250.7V247.7H194.7V248.7M194.5 249.7V246.6H194.7V247.7M195.0 233.2V230.1H195.1V233.6M195.1 230.1V229.2H195.2V233.0M194.9 232.6V228.8H195.1V229.2M195.4 231.0V227.8H195.5V231.6M195.3 230.2V226.6H195.5V227.8M195.3 229.5V225.4H195.4V226.6M195.0 228.8V222.0H195.4V225.4M195.2 222.0V221.4H195.6V235.2M195.4 221.4V220.4H195.6V233.2M194.6 246.6V208.8H195.5V220.4M191.9 211.7V207.4H195.1V208.8M189.1 211.0V207.0H193.5V207.4M191.3 207.0V205.9H203.4V206.6M180.4 223.0V219.8H180.4V222.6M180.3 222.2V219.1H180.4V219.8M180.3 219.1V218.3H180.5V221.8M180.2 220.8V217.9H180.4V218.3M180.7 241.2V237.7H180.8V241.5M180.8 237.7V236.4H180.9V240.4M180.7 239.6V235.9H180.8V236.4M180.8 235.9V234.7H180.9V238.4M180.6 237.0V234.0H180.8V234.7M181.0 237.2V233.3H181.1V237.3M181.2 236.8V233.7H181.4V237.5M181.1 233.3V232.5H181.3V233.7M180.7 234.0V227.5H181.2V232.5M181.0 227.5V222.9H181.5V241.4M180.5 229.3V221.4H181.2V222.9M180.9 221.4V218.4H181.6V234.5M181.7 242.7V238.7H181.8V242.6M181.8 238.7V237.9H181.9V241.5M182.1 238.8V235.8H182.2V239.8M181.9 237.9V228.8H182.2V235.8M182.3 243.0V240.0H182.4V243.3M182.3 242.9V239.7H182.4V240.0M182.0 228.8V223.1H182.3V239.7M182.2 223.1V220.2H182.5V239.7M182.8 243.5V240.2H182.9V243.4M182.7 242.8V239.8H182.8V240.2M182.6 242.4V238.5H182.8V239.8M182.6 241.5V237.8H182.7V238.5M182.6 237.8V236.7H183.0V240.7M182.8 236.7V221.7H183.1V226.6M182.3 220.2V219.6H182.9V221.7M181.3 218.4V215.1H182.6V219.6M183.2 233.6V230.3H183.3V233.9M183.3 230.3V229.5H183.4V232.3M183.3 229.5V228.9H183.5V232.3M183.4 228.9V214.3H183.6V230.3M182.0 215.1V214.0H183.5V214.3M183.9 242.7V239.0H183.9V241.8M183.8 241.2V238.1H183.9V239.0M183.7 240.1V237.2H183.8V238.1M183.8 237.2V236.7H184.0V239.5M182.7 214.0V213.2H183.9V236.7M184.1 228.7V225.2H184.2V228.0M184.5 224.0V220.7H184.6V223.8M184.5 220.7V219.3H184.7V222.7M184.4 222.1V218.4H184.6V219.3M184.4 221.2V218.1H184.5V218.4M184.7 221.3V218.0H184.8V221.1M184.5 218.1V216.9H184.8V218.0M184.6 216.9V214.9H184.9V225.7M184.3 225.0V214.5H184.7V214.9M184.2 225.2V212.4H184.5V214.5M183.3 213.2V211.8H184.4V212.4M185.0 238.4V234.6H185.1V238.4M185.0 234.6V234.0H185.1V238.0M184.9 237.5V233.6H185.1V234.0M184.9 236.1V233.0H185.0V233.6M185.0 233.0V232.5H185.2V235.5M185.2 227.1V223.8H185.3V226.8M185.3 223.8V222.7H185.4V225.7M185.2 224.6V221.7H185.4V222.7M185.3 221.7V221.4H185.6V224.7M185.1 232.5V213.2H185.4V221.4M185.8 226.4V223.1H185.9V226.1M185.8 225.4V222.5H185.9V223.1M185.7 225.9V222.2H185.8V222.5M185.8 222.2V221.7H186.0V225.5M186.3 232.4V228.8H186.4V232.6M186.3 228.8V227.9H186.4V231.1M186.2 230.3V226.6H186.4V227.9M186.2 229.1V226.2H186.3V226.6M186.2 228.8V225.5H186.3V226.2M186.1 228.9V225.0H186.2V225.5M186.2 225.0V223.8H186.5V227.5M186.1 226.5V223.6H186.3V223.8M186.6 225.4V221.7H186.7V225.3M186.5 224.4V220.5H186.6V221.7M186.6 220.5V219.6H186.8V223.6M186.7 219.6V218.2H186.9V222.1M186.2 223.6V215.1H186.8V218.2M187.2 238.5V235.1H187.3V238.0M187.1 237.6V234.2H187.3V235.1M187.0 236.9V234.0H187.2V234.2M187.1 234.0V232.6H187.4V235.4M187.5 232.1V229.0H187.6V232.6M187.5 229.0V227.5H187.7V230.4M187.6 227.5V227.2H187.7V230.3M187.5 229.6V226.1H187.7V227.2M187.6 226.1V225.3H187.7V229.3M187.3 232.6V218.9H187.6V225.3M187.0 228.8V217.4H187.4V218.9M186.5 215.1V214.5H187.2V217.4M186.9 214.5V214.0H187.8V243.6M185.9 221.7V213.8H187.3V214.0M185.2 213.2V212.7H186.6V213.8M187.9 246.7V243.4H188.0V246.8M187.9 243.4V242.5H188.0V246.1M188.0 242.5V241.6H188.0V245.4M188.0 241.6V240.7H188.1V244.7M188.3 232.2V229.3H188.4V232.5M188.2 231.5V228.5H188.3V229.3M188.5 229.0V225.8H188.6V229.1M188.5 227.9V224.7H188.6V225.8M188.5 227.4V223.8H188.5V224.7M188.3 228.5V215.8H188.5V223.8M188.1 235.2V213.7H188.4V215.8M188.1 240.7V211.4H188.3V213.7M185.9 212.7V209.6H188.2V211.4M183.8 211.8V208.1H187.0V209.6M180.3 217.9V207.9H185.4V208.1M188.8 251.9V247.8H188.9V251.3M188.7 250.3V246.5H188.9V247.8M188.8 246.5V245.3H188.9V248.6M188.9 245.3V245.1H189.0V248.8M188.9 245.1V244.8H189.0V247.7M188.7 247.2V243.5H189.0V244.8M182.9 207.9V205.9H188.8V243.5M185.9 205.9V205.2H197.4V205.9M170.5 242.2V238.8H170.6V242.3M170.5 238.8V238.3H170.7V242.3M170.8 241.8V238.6H170.9V241.6M170.8 238.6V238.2H170.9V241.9M170.6 238.3V236.9H170.9V238.2M171.0 240.3V237.4H171.1V240.6M171.1 237.4V236.8H171.2V240.5M170.7 236.9V214.5H171.1V236.8M170.9 214.5V212.6H171.3V249.2M171.4 232.0V228.1H171.4V232.2M171.5 231.4V227.3H171.6V231.1M171.4 228.1V227.0H171.6V227.3M171.5 227.0V225.9H171.7V230.0M172.2 251.1V247.1H172.2V250.3M172.2 247.1V245.8H172.3V248.9M172.1 249.2V245.5H172.2V245.8M172.3 248.6V244.9H172.4V247.9M172.6 237.7V234.7H172.7V237.9M172.5 236.6V233.6H172.6V234.7M172.5 235.7V232.7H172.6V233.6M172.5 232.7V231.3H172.8V235.3M172.4 244.9V228.7H172.7V231.3M172.9 246.0V242.1H173.0V245.7M172.9 245.5V241.6H173.0V242.1M172.8 244.7V241.2H172.9V241.6M172.5 228.7V228.0H172.9V241.2M172.1 245.5V227.2H172.7V228.0M172.0 232.9V226.9H172.4V227.2M173.1 232.5V228.5H173.2V231.7M172.2 226.9V226.3H173.2V228.5M173.3 236.0V232.5H173.4V236.3M173.3 232.5V231.6H173.4V234.7M172.7 226.3V226.1H173.4V231.6M171.9 235.8V223.9H173.0V226.1M171.9 238.7V222.3H172.5V223.9M171.8 238.8V221.3H172.2V222.3M172.0 221.3V220.8H173.5V229.4M171.6 225.9V220.3H172.7V220.8M173.7 229.4V225.8H173.8V229.7M173.8 225.8V225.3H173.9V228.6M173.8 225.3V224.0H173.9V227.2M173.6 227.1V223.2H173.9V224.0M172.2 220.3V218.0H173.7V223.2M174.1 243.7V239.9H174.2V243.3M174.0 242.0V238.4H174.2V239.9M174.5 245.1V241.8H174.6V245.5M174.6 241.8V241.5H174.6V245.0M174.6 241.5V240.5H174.6V243.4M174.4 242.6V239.5H174.6V240.5M174.5 239.5V238.9H174.7V242.4M174.6 238.9V238.5H174.7V241.5M174.3 241.8V237.8H174.6V238.5M174.1 238.4V231.7H174.5V237.8M174.3 231.7V231.3H174.8V246.0M174.5 231.3V230.0H174.8V237.5M173.9 241.0V224.6H174.7V230.0M174.3 224.6V223.8H174.9V242.4M174.6 223.8V216.5H175.0V236.3M172.9 218.0V214.0H174.8V216.5M171.1 212.6V211.5H173.9V214.0M175.3 240.5V237.2H175.5V241.1M175.7 241.7V237.9H175.8V241.0M175.6 240.5V237.2H175.8V237.9M175.5 240.1V236.8H175.7V237.2M175.6 236.8V235.6H175.9V239.5M176.0 242.9V239.8H176.1V243.4M176.1 239.8V239.2H176.1V243.1M176.1 239.2V238.2H176.2V241.4M176.0 240.7V237.0H176.1V238.2M175.8 235.6V233.4H176.0V237.0M175.9 233.4V232.5H176.2V241.7M176.3 250.3V246.9H176.4V250.3M176.5 252.1V248.9H176.6V252.6M176.5 248.9V248.6H176.7V252.2M176.3 246.9V232.0H176.6V248.6M176.1 232.5V231.8H176.5V232.0M176.3 231.8V231.1H176.8V236.4M175.4 237.2V229.7H176.5V231.1M176.0 229.7V229.2H176.9V243.8M175.2 244.9V226.3H176.4V229.2M175.1 247.2V225.4H175.8V226.3M177.0 243.2V240.3H177.1V243.7M177.1 240.3V239.8H177.2V243.0M177.1 239.8V239.4H177.2V243.3M177.4 239.4V236.1H177.5V239.3M177.3 237.8V234.8H177.4V236.1M177.2 239.4V227.0H177.3V234.8M175.5 225.4V223.8H177.3V227.0M177.7 228.1V224.7H177.7V227.7M177.6 227.6V223.9H177.7V224.7M177.6 223.9V223.4H177.8V226.9M177.7 223.4V222.4H177.8V225.6M177.8 222.4V219.3H178.0V226.7M177.5 239.9V219.0H177.9V219.3M178.2 242.8V238.9H178.3V242.0M178.2 241.3V237.4H178.3V238.9M178.1 240.0V236.5H178.2V237.4M178.1 239.7V235.9H178.2V236.5M178.0 238.2V235.1H178.1V235.9M178.4 241.9V239.0H178.5V242.3M178.4 239.0V237.9H178.6V240.8M178.4 240.0V236.8H178.5V237.9M178.4 236.8V235.3H178.6V238.6M178.1 235.1V228.0H178.5V235.3M178.7 233.5V230.1H178.8V233.7M178.7 232.8V229.6H178.8V230.1M178.6 231.9V228.7H178.7V229.6M178.3 228.0V225.7H178.7V228.7M179.0 235.0V231.6H179.1V235.2M179.0 231.6V230.4H179.1V233.7M179.1 230.4V230.1H179.1V234.0M179.1 230.1V229.3H179.2V232.9M178.9 231.9V228.5H179.1V229.3M179.0 228.5V225.4H179.3V231.7M178.5 225.7V224.7H179.2V225.4M179.5 232.3V229.4H179.6V232.3M179.6 229.4V229.2H179.7V233.0M179.5 232.6V228.7H179.6V229.2M178.8 224.7V221.1H179.5V228.7M177.7 219.0V218.3H179.2V221.1M179.8 237.2V234.0H179.9V237.2M179.9 234.0V232.7H180.0V236.3M179.9 232.7V231.7H180.0V235.4M180.0 231.7V231.5H180.1V235.5M179.7 234.4V230.8H180.1V231.5M178.4 218.3V216.2H179.9V230.8M176.4 223.8V213.7H179.2V216.2M172.5 211.5V210.5H177.8V213.7M175.1 210.5V204.9H191.6V205.2M163.5 238.8V235.4H163.6V238.4M163.5 238.7V234.8H163.6V235.4M163.4 236.4V233.4H163.5V234.8M163.4 236.5V232.5H163.5V233.4M163.9 240.6V237.7H164.0V240.8M163.8 241.3V237.3H163.9V237.7M163.9 237.3V237.0H164.1V240.2M163.8 240.2V236.5H164.0V237.0M163.9 236.5V235.2H164.2V238.8M164.0 235.2V220.8H164.2V254.0M163.7 247.5V220.3H164.1V220.8M163.5 232.5V219.7H163.9V220.3M163.4 233.1V213.8H163.7V219.7M163.5 213.8V212.0H164.3V246.1M164.5 242.0V238.6H164.6V242.6M164.4 242.0V238.2H164.6V238.6M164.4 241.3V237.3H164.5V238.2M164.7 229.2V226.4H164.9V230.0M164.5 237.3V214.9H164.8V226.4M163.9 212.0V211.1H164.6V214.9M164.9 228.8V224.8H165.0V228.5M165.0 224.8V224.0H165.1V227.9M165.2 236.9V233.5H165.3V237.3M165.2 233.5V232.0H165.3V235.0M165.3 232.0V231.4H165.4V234.8M165.6 232.6V228.7H165.7V232.0M165.6 228.7V227.6H165.7V230.9M165.4 230.1V226.8H165.7V227.6M165.3 231.4V221.9H165.5V226.8M165.4 221.9V220.8H165.8V251.9M165.0 224.0V218.4H165.6V220.8M166.0 236.1V232.3H166.1V235.4M166.0 232.3V231.0H166.1V235.0M165.9 232.6V229.6H166.1V231.0M166.0 229.6V228.5H166.2V231.6M165.8 230.8V227.9H166.1V228.5M166.0 227.9V218.6H166.3V229.6M166.6 249.5V246.4H166.7V249.5M166.7 246.4V245.2H166.8V248.5M166.6 248.3V244.8H166.7V245.2M166.5 247.5V244.3H166.6V244.8M166.5 246.9V242.9H166.6V244.3M166.9 235.1V231.1H167.0V235.1M166.9 231.1V230.7H167.1V233.6M166.5 242.9V218.7H167.0V230.7M166.4 227.7V218.5H166.8V218.7M166.1 218.6V218.2H166.6V218.5M165.3 218.4V217.3H166.4V218.2M165.8 217.3V214.9H167.2V242.3M164.3 211.1V210.1H166.5V214.9M167.6 241.0V237.0H167.7V240.4M167.5 238.5V235.5H167.6V237.0M167.7 241.4V238.4H167.8V242.3M167.7 240.4V237.3H167.8V238.4M167.7 237.3V236.1H167.9V239.3M167.5 235.5V235.3H167.8V236.1M168.1 241.8V238.8H168.2V242.9M168.1 238.8V237.4H168.3V240.3M168.0 239.9V237.0H168.2V237.4M168.0 238.5V235.5H168.1V237.0M167.9 238.2V235.2H168.0V235.5M168.4 226.7V222.9H168.5V226.3M168.0 235.2V214.8H168.5V222.9M168.6 225.3V222.0H168.7V225.7M168.6 224.6V221.0H168.6V222.0M168.9 226.4V223.1H169.0V226.4M168.8 224.7V221.8H169.0V223.1M168.6 221.0V217.3H168.9V221.8M168.8 217.3V214.7H169.1V224.0M168.9 214.7V213.5H169.2V236.1M168.2 214.8V213.3H169.1V213.5M167.7 235.3V213.0H168.6V213.3M169.3 249.8V246.8H169.5V250.2M169.7 252.6V249.5H169.8V253.0M169.6 251.3V248.3H169.7V249.5M169.7 248.3V247.3H169.9V250.7M169.6 248.9V246.0H169.8V247.3M169.7 246.0V245.3H169.9V248.5M170.1 245.4V242.5H170.2V246.3M170.0 244.5V241.5H170.2V242.5M170.0 243.3V240.4H170.1V241.5M169.8 245.3V220.6H170.0V240.4M169.4 246.8V218.1H169.9V220.6M170.3 252.0V247.9H170.4V251.2M170.4 247.9V247.0H170.5V249.8M169.7 218.1V215.0H170.4V247.0M169.3 243.1V214.3H170.0V215.0M168.2 213.0V212.3H169.6V214.3M167.4 220.8V212.1H168.9V212.3M165.4 210.1V209.9H168.1V212.1M166.8 209.9V204.6H183.4V204.9M157.7 233.0V230.1H157.8V233.6M158.0 236.8V233.6H158.0V237.7M158.2 232.1V229.3H158.3V232.2M158.6 245.3V241.3H158.7V244.1M158.6 241.3V239.8H158.8V243.6M158.5 242.8V239.6H158.7V239.8M158.4 242.6V239.4H158.6V239.6M158.8 238.1V234.6H158.9V237.5M159.1 240.6V237.2H159.2V240.1M159.0 239.6V235.9H159.1V237.2M159.0 237.8V234.6H159.1V235.9M158.9 234.6V234.0H159.0V234.6M158.5 239.4V227.5H159.0V234.0M158.3 240.0V227.3H158.7V227.5M158.2 229.3V225.3H158.5V227.3M158.0 233.6V220.0H158.4V225.3M157.9 237.1V219.6H158.2V220.0M159.3 237.2V233.8H159.4V237.5M159.3 233.8V233.2H159.4V236.7M159.6 242.7V239.2H159.7V242.6M159.5 241.2V237.9H159.7V239.2M159.5 239.6V236.5H159.6V237.9M159.5 236.5V235.8H159.8V239.2M159.4 233.2V225.8H159.6V235.8M159.9 251.3V248.3H160.0V251.4M159.9 248.3V247.6H160.0V251.0M159.8 251.1V247.1H160.0V247.6M159.9 247.1V246.5H160.1V250.3M160.0 246.5V245.8H160.1V249.5M159.5 225.8V223.5H160.1V245.8M158.1 219.6V218.2H159.8V223.5M157.8 230.1V216.5H158.9V218.2M157.6 224.1V214.5H158.3V216.5M158.0 214.5V212.7H160.2V222.6M160.5 246.5V243.1H160.7V246.6M160.5 246.3V242.3H160.6V243.1M160.3 243.7V240.9H160.5V242.3M160.4 240.9V240.4H160.7V244.1M159.1 212.7V211.9H160.6V240.4M160.9 248.9V244.8H161.0V248.6M160.8 247.8V244.1H161.0V244.8M161.5 250.5V247.4H161.6V250.8M161.4 249.6V246.1H161.6V247.4M161.3 248.2V244.6H161.5V246.1M161.4 244.6V244.0H161.6V247.9M161.2 246.7V242.8H161.5V244.0M161.7 260.8V257.9H161.8V261.9M161.8 257.9V257.0H161.9V260.8M161.9 257.0V256.0H162.0V259.1M161.9 256.0V255.2H162.0V258.9M162.0 255.2V254.9H162.1V258.5M161.7 257.7V254.0H162.1V254.9M161.4 242.8V239.8H161.9V254.0M161.6 239.8V235.0H162.2V255.6M161.2 254.7V234.5H161.9V235.0M161.5 234.5V232.1H162.2V248.6M161.1 239.4V229.0H161.9V232.1M161.5 229.0V227.9H162.3V256.1M160.9 244.1V227.6H161.9V227.9M161.4 227.6V226.7H162.4V234.5M162.8 244.2V240.9H162.9V244.0M162.8 244.4V240.5H162.9V240.9M162.7 243.3V239.9H162.8V240.5M162.8 239.9V239.5H163.0V243.4M162.6 242.6V239.2H162.9V239.5M162.5 246.0V226.7H162.7V239.2M163.1 259.5V256.2H163.2V259.9M163.1 258.2V255.3H163.1V256.2M162.6 226.7V226.4H163.1V255.3M162.5 245.9V226.2H162.9V226.4M161.9 226.7V225.8H162.7V226.2M162.3 225.8V214.8H163.3V226.1M159.8 211.9V210.7H162.8V214.8M161.3 210.7V204.3H175.1V204.6M225.4 265.2V262.4H225.5V265.4M225.4 264.5V261.5H225.5V262.4M225.4 261.5V261.1H225.6V264.0M225.4 264.0V260.7H225.5V261.1M225.5 260.7V260.0H225.6V263.1M225.5 260.0V259.7H225.7V263.5M225.3 262.6V258.9H225.6V259.7M225.7 253.7V250.6H225.8V253.6M225.5 258.9V222.4H225.7V250.6M225.9 248.5V245.4H225.9V248.2M225.8 248.9V245.0H225.9V245.4M225.6 222.4V222.2H225.9V245.0M225.2 242.8V218.5H225.7V222.2M225.2 241.5V217.8H225.5V218.5M226.3 244.1V240.4H226.4V243.2M226.3 240.4V239.5H226.4V243.2M226.2 242.5V239.1H226.4V239.5M226.2 242.5V238.5H226.3V239.1M226.1 240.4V237.5H226.2V238.5M225.3 217.8V216.7H226.2V237.5M226.7 235.7V231.7H226.9V235.0M226.8 231.7V231.1H226.9V234.1M226.9 231.1V229.7H227.0V233.1M226.9 229.7V229.3H227.1V232.9M226.6 232.6V228.6H227.0V229.3M226.6 239.9V222.4H226.8V228.6M226.7 222.4V218.1H227.1V233.8M226.5 227.5V215.4H226.9V218.1M225.7 216.7V213.5H226.7V215.4M226.2 213.5V211.8H227.2V235.5M227.5 234.8V231.4H227.6V234.8M227.4 234.1V230.1H227.6V231.4M227.4 232.8V229.3H227.5V230.1M227.5 229.3V228.8H227.7V232.2M227.4 232.4V228.4H227.6V228.8M227.3 231.5V227.6H227.5V228.4M227.3 230.6V227.3H227.4V227.6M227.2 221.2V212.9H227.3V227.3M226.7 211.8V206.1H227.3V212.9M227.8 266.1V262.0H228.0V265.0M228.1 250.7V246.7H228.2V249.8M228.2 246.7V245.3H228.3V248.3M228.3 245.3V245.0H228.4V248.1M228.1 246.7V243.6H228.3V245.0M228.6 247.0V243.1H228.6V245.9M228.2 243.6V227.9H228.6V243.1M227.9 262.0V219.8H228.4V227.9M227.7 233.6V210.8H228.2V219.8M229.0 268.5V264.9H229.1V268.8M229.0 264.9V264.4H229.1V267.4M228.9 267.2V263.9H229.1V264.4M229.3 248.5V245.6H229.4V249.4M229.3 245.6V245.4H229.4V249.5M229.4 245.4V244.1H229.5V247.4M229.2 247.0V243.3H229.4V244.1M229.3 243.3V242.2H229.6V245.6M229.7 243.4V239.8H229.8V243.5M229.8 239.8V239.5H229.9V243.1M229.7 242.0V239.0H229.8V239.5M229.7 239.0V238.8H229.9V242.7M229.8 238.8V238.5H229.9V241.5M229.6 241.3V237.3H229.9V238.5M229.5 242.2V229.9H229.8V237.3M229.0 263.9V226.9H229.6V229.9M228.8 255.7V226.5H229.3V226.9M230.0 273.2V270.2H230.0V274.0M230.0 270.2V269.7H230.1V272.6M230.1 269.7V268.6H230.2V272.7M229.1 226.5V219.3H230.1V268.6M228.7 256.9V219.1H229.6V219.3M229.2 219.1V217.8H230.3V257.4M227.9 210.8V210.3H229.7V217.8M227.0 206.1V204.6H228.8V210.3M222.5 249.5V246.6H222.6V249.9M222.5 248.7V245.9H222.6V246.6M222.5 245.9V245.5H222.7V248.5M222.4 247.4V244.4H222.6V245.5M222.9 229.3V226.3H222.9V229.3M222.9 226.3V225.1H223.0V228.6M222.8 228.1V224.6H223.0V225.1M223.1 250.5V247.1H223.2V250.3M223.5 239.0V235.6H223.6V239.3M223.8 239.6V236.0H223.9V239.4M223.8 236.0V235.5H223.9V239.4M223.6 235.6V234.2H223.9V235.5M223.5 248.1V227.3H223.7V234.2M223.6 227.3V225.5H224.0V231.9M223.4 232.2V224.7H223.8V225.5M223.2 247.1V220.4H223.6V224.7M222.9 224.6V220.2H223.4V220.4M224.1 243.5V239.4H224.2V242.2M224.0 242.2V238.8H224.2V239.4M224.1 238.8V238.0H224.4V241.2M224.2 238.0V237.7H224.4V241.7M224.5 243.4V240.5H224.6V244.3M224.6 240.5V239.7H224.7V243.5M224.6 239.7V238.7H224.8V242.1M224.9 255.8V252.2H225.0V255.8M225.0 252.2V250.9H225.1V254.5M224.8 253.7V250.5H225.0V250.9M224.7 238.7V229.2H224.9V250.5M224.3 237.7V226.8H224.8V229.2M223.1 220.2V216.9H224.6V226.8M222.5 244.4V211.8H223.8V216.9M222.3 235.2V204.6H223.2V211.8M222.8 204.6V204.0H227.9V204.6M217.0 235.0V231.5H217.1V234.9M217.2 236.4V233.2H217.3V237.3M217.2 233.2V232.5H217.3V236.4M217.3 232.5V232.1H217.3V235.0M217.3 232.1V231.4H217.4V234.4M217.0 231.5V230.8H217.3V231.4M217.6 228.1V225.3H217.7V229.1M217.6 227.5V224.6H217.7V225.3M217.5 226.8V223.8H217.6V224.6M217.5 226.9V223.5H217.6V223.8M218.1 239.5V236.5H218.3V240.0M218.2 236.5V236.2H218.3V239.2M218.1 238.2V235.0H218.3V236.2M218.0 237.1V233.7H218.2V235.0M217.8 235.0V220.3H218.1V233.7M217.5 223.5V219.2H217.9V220.3M218.4 234.0V230.2H218.5V233.8M218.4 232.8V229.7H218.5V230.2M217.7 219.2V218.2H218.4V229.7M218.1 218.2V218.0H218.6V237.5M217.4 241.6V215.7H218.4V218.0M217.2 230.8V211.7H217.9V215.7M218.9 240.8V237.4H219.0V240.6M218.8 240.3V236.5H218.9V237.4M219.1 239.3V235.9H219.1V239.4M218.8 236.5V235.5H219.1V235.9M219.2 236.0V232.0H219.3V234.9M219.3 232.0V230.8H219.4V233.7M219.7 251.3V247.3H219.8V251.3M219.6 249.1V246.3H219.8V247.3M219.5 248.0V245.1H219.7V246.3M219.5 248.8V244.8H219.6V245.1M219.5 247.3V243.8H219.5V244.8M219.8 241.1V238.2H219.9V241.4M219.9 238.2V236.8H220.0V240.7M219.5 243.8V225.0H219.9V236.8M219.7 225.0V223.4H220.1V233.2M219.3 230.8V221.5H219.9V223.4M219.6 221.5V218.6H220.1V238.0M220.3 237.6V233.8H220.4V237.1M220.2 235.9V232.3H220.3V233.8M220.3 232.3V231.7H220.5V234.9M220.2 234.6V230.8H220.4V231.7M219.9 218.6V216.2H220.3V230.8M219.0 235.5V214.5H220.1V216.2M217.5 211.7V210.9H219.5V214.5M220.7 243.3V240.5H220.7V243.8M220.8 246.9V243.5H220.9V246.6M221.0 244.3V240.7H221.1V244.3M221.1 240.7V239.6H221.3V242.5M221.4 250.7V247.9H221.5V251.0M221.5 247.9V247.3H221.6V251.0M221.4 250.0V245.9H221.5V247.3M221.4 245.9V244.6H221.6V247.6M221.3 247.5V243.7H221.5V244.6M221.7 232.2V229.0H221.8V232.7M221.7 229.0V228.6H221.9V231.5M221.8 228.6V228.2H222.0V231.3M221.6 230.6V226.9H221.9V228.2M221.4 243.7V216.7H221.8V226.9M221.2 239.6V216.1H221.6V216.7M222.1 229.1V225.5H222.1V228.5M221.4 216.1V215.3H222.1V225.5M220.9 243.5V212.7H221.7V215.3M221.3 212.7V211.9H222.2V240.8M220.7 240.5V209.6H221.8V211.9M218.5 210.9V205.5H221.2V209.6M219.9 205.5V203.7H225.3V204.0M222.6 203.7V203.3H230.6V230.4M35.2 258V196.6H104.7V198.4M36.0 262V198.4H216.6V205M84.8 210.9H157.0V250M77.6 209.5V210.9M157.0 198.4V211M168.2 204.3V198.4M47.4 199.6V198.4M216.6 203.3H230.6M157.3 199.8H165.7M157.3 201.5H175.9M157.4 202.8H167M157.5 204.7H175.9M158 206.1H167M158 207.5H175M158.1 209.1H174.2V240M158.1 200V230M165.7 199.8V210M175.9 201.5V206M167 202.8V208" stroke="#000" stroke-width="0.55" fill="none"/>
<polyline points="107.5,227.2 108.5,228.7 109.5,230.2 110.5,231.7 111.5,233.2 112.5,234.9 113.5,236.6 114.5,238.1 115.5,239.5 116.5,240.8 117.5,242.2 118.5,243.8 119.5,245.6 120.5,247.3 121.5,249.1 122.5,250.9 123.5,252.6 124.5,254.3 125.5,256.0 126.5,258.0 127.5,260.1 128.5,262.3 129.5,264.6 130.5,267.1 131.5,269.6 132.5,272.2 133.5,274.9 134.5,277.6 135.5,280.2 136.5,282.7 137.5,285.3 138.5,287.8 139.5,290.4 140.5,292.9 141.5,295.2 142.5,297.5 143.5,299.8 144.5,302.1 145.5,304.3 146.5,306.5 147.5,308.0 148.5,309.5" stroke="#000" stroke-width="1.3" fill="none"/>
<path d="M40.7 250V303M50.7 255V281M59.5 255V276M76.9 245V292" stroke="#000" stroke-width="0.75" fill="none"/>
<rect x="35.2" y="336.6" width="3.55" height="31.8" fill="#7040a0"/>
<rect x="38.7" y="336.6" width="3.85" height="31.8" fill="#c050a8"/>
<rect x="42.5" y="336.6" width="2.05" height="31.8" fill="#20a8a8"/>
<rect x="44.5" y="336.6" width="12.75" height="31.8" fill="#1450a8"/>
<rect x="48.5" y="336.6" width="1.55" height="31.8" fill="#2070b8"/>
<rect x="52" y="336.6" width="1.55" height="31.8" fill="#2070b8"/>
<rect x="57.2" y="336.6" width="0.95" height="31.8" fill="#f4e4e4"/>
<rect x="58.1" y="336.6" width="3.75" height="31.8" fill="#10589c"/>
<rect x="61.8" y="336.6" width="4.05" height="31.8" fill="#20c0c0"/>
<rect x="65.8" y="336.6" width="1.25" height="31.8" fill="#b0d840"/>
<rect x="67" y="336.6" width="7.55" height="31.8" fill="#20b820"/>
<rect x="74.5" y="336.6" width="3.15" height="31.8" fill="#ffb8c8"/>
<rect x="77.6" y="336.6" width="79.75" height="31.8" fill="#15c4bc"/>
<rect x="98.9" y="336.6" width="1.55" height="31.8" fill="#2060b0"/>
<rect x="103.7" y="336.6" width="3.35" height="31.8" fill="#1040a0"/>
<rect x="157.3" y="336.6" width="9.55" height="31.8" fill="#f0ec10"/>
<rect x="166.8" y="336.6" width="4.65" height="31.8" fill="#20b020"/>
<rect x="171.4" y="336.6" width="2.75" height="31.8" fill="#f0ec10"/>
<rect x="174.1" y="336.6" width="2.75" height="31.8" fill="#a8d040"/>
<rect x="176.8" y="336.6" width="6.65" height="31.8" fill="#f0ec10"/>
<rect x="183.4" y="336.6" width="1.15" height="31.8" fill="#807020"/>
<rect x="184.5" y="336.6" width="6.45" height="31.8" fill="#b82828"/>
<rect x="190.9" y="336.6" width="2.35" height="31.8" fill="#000"/>
<rect x="193.2" y="336.6" width="1.75" height="31.8" fill="#a04030"/>
<rect x="194.9" y="336.6" width="6.75" height="31.8" fill="#000"/>
<rect x="201.6" y="336.6" width="10.95" height="31.8" fill="#bc3028"/>
<rect x="212.5" y="336.6" width="1.55" height="31.8" fill="#a02020"/>
<rect x="214" y="336.6" width="2.05" height="31.8" fill="#c08070"/>
<rect x="216" y="336.6" width="2.05" height="31.8" fill="#e8dcc0"/>
<rect x="218" y="336.6" width="2.05" height="31.8" fill="#c05070"/>
<rect x="220" y="336.6" width="2.05" height="31.8" fill="#e04030"/>
<rect x="222" y="336.6" width="8.55" height="31.8" fill="#ff1414"/>
<rect x="35.2" y="336.6" width="195.3" height="31.8" fill="none" stroke="#333" stroke-width="0.6"/>
<text x="16.8" y="353.9" font-size="7.2" text-anchor="middle" fill="#0a0a0a">Module</text>
<text x="16.8" y="362.0" font-size="7.2" text-anchor="middle" fill="#0a0a0a">colors</text>
<text x="251.40" y="182.60" font-size="11" text-anchor="start" fill="#000" font-weight="bold">E</text>
<text x="380.00" y="179.80" font-size="9.06" text-anchor="start" fill="#000" font-weight="bold">Module−trait relationships</text>
<rect x="335.30" y="183.50" width="14.32" height="16.20" fill="#ffe5e0"/>
<rect x="349.57" y="183.50" width="14.32" height="16.20" fill="#ff4c2d"/>
<rect x="363.84" y="183.50" width="14.32" height="16.20" fill="#ffa797"/>
<rect x="378.11" y="183.50" width="14.32" height="16.20" fill="#ffc1b7"/>
<rect x="392.38" y="183.50" width="14.32" height="16.20" fill="#ffd0c8"/>
<rect x="406.65" y="183.50" width="14.32" height="16.20" fill="#ff9886"/>
<rect x="420.92" y="183.50" width="14.32" height="16.20" fill="#ddeefa"/>
<rect x="435.18" y="183.50" width="14.32" height="16.20" fill="#ffbfb4"/>
<rect x="449.45" y="183.50" width="14.32" height="16.20" fill="#bbdef5"/>
<rect x="463.72" y="183.50" width="14.32" height="16.20" fill="#ffc1b7"/>
<rect x="477.99" y="183.50" width="14.32" height="16.20" fill="#bedff5"/>
<rect x="492.26" y="183.50" width="14.32" height="16.20" fill="#ffbdb1"/>
<rect x="506.53" y="183.50" width="14.32" height="16.20" fill="#cce6f8"/>
<rect x="335.30" y="199.65" width="14.32" height="16.20" fill="#ffc4b9"/>
<rect x="349.57" y="199.65" width="14.32" height="16.20" fill="#78bdeb"/>
<rect x="363.84" y="199.65" width="14.32" height="16.20" fill="#c1e1f6"/>
<rect x="378.11" y="199.65" width="14.32" height="16.20" fill="#e0f0fa"/>
<rect x="392.38" y="199.65" width="14.32" height="16.20" fill="#eff7fd"/>
<rect x="406.65" y="199.65" width="14.32" height="16.20" fill="#cce6f8"/>
<rect x="420.92" y="199.65" width="14.32" height="16.20" fill="#ffd9d3"/>
<rect x="435.18" y="199.65" width="14.32" height="16.20" fill="#fbfdfe"/>
<rect x="449.45" y="199.65" width="14.32" height="16.20" fill="#ff836d"/>
<rect x="463.72" y="199.65" width="14.32" height="16.20" fill="#ff806a"/>
<rect x="477.99" y="199.65" width="14.32" height="16.20" fill="#ff664b"/>
<rect x="492.26" y="199.65" width="14.32" height="16.20" fill="#feffff"/>
<rect x="506.53" y="199.65" width="14.32" height="16.20" fill="#ff9a89"/>
<rect x="335.30" y="215.80" width="14.32" height="16.20" fill="#eff7fd"/>
<rect x="349.57" y="215.80" width="14.32" height="16.20" fill="#5cafe7"/>
<rect x="363.84" y="215.80" width="14.32" height="16.20" fill="#78bdeb"/>
<rect x="378.11" y="215.80" width="14.32" height="16.20" fill="#c6e3f7"/>
<rect x="392.38" y="215.80" width="14.32" height="16.20" fill="#5fb1e8"/>
<rect x="406.65" y="215.80" width="14.32" height="16.20" fill="#ffc6bc"/>
<rect x="420.92" y="215.80" width="14.32" height="16.20" fill="#ffd5cd"/>
<rect x="435.18" y="215.80" width="14.32" height="16.20" fill="#b5dbf4"/>
<rect x="449.45" y="215.80" width="14.32" height="16.20" fill="#ffb8ab"/>
<rect x="463.72" y="215.80" width="14.32" height="16.20" fill="#ffcdc5"/>
<rect x="477.99" y="215.80" width="14.32" height="16.20" fill="#ffa797"/>
<rect x="492.26" y="215.80" width="14.32" height="16.20" fill="#ffded8"/>
<rect x="506.53" y="215.80" width="14.32" height="16.20" fill="#e7f3fc"/>
<rect x="335.30" y="231.95" width="14.32" height="16.20" fill="#ffab9d"/>
<rect x="349.57" y="231.95" width="14.32" height="16.20" fill="#98ccf0"/>
<rect x="363.84" y="231.95" width="14.32" height="16.20" fill="#fffefe"/>
<rect x="378.11" y="231.95" width="14.32" height="16.20" fill="#a3d2f2"/>
<rect x="392.38" y="231.95" width="14.32" height="16.20" fill="#75bbeb"/>
<rect x="406.65" y="231.95" width="14.32" height="16.20" fill="#ffebe7"/>
<rect x="420.92" y="231.95" width="14.32" height="16.20" fill="#98ccf0"/>
<rect x="435.18" y="231.95" width="14.32" height="16.20" fill="#399ee2"/>
<rect x="449.45" y="231.95" width="14.32" height="16.20" fill="#c9e5f7"/>
<rect x="463.72" y="231.95" width="14.32" height="16.20" fill="#f3f9fd"/>
<rect x="477.99" y="231.95" width="14.32" height="16.20" fill="#ff5a3e"/>
<rect x="492.26" y="231.95" width="14.32" height="16.20" fill="#ff735a"/>
<rect x="506.53" y="231.95" width="14.32" height="16.20" fill="#cce6f8"/>
<rect x="335.30" y="248.10" width="14.32" height="16.20" fill="#f4f9fd"/>
<rect x="349.57" y="248.10" width="14.32" height="16.20" fill="#78bdeb"/>
<rect x="363.84" y="248.10" width="14.32" height="16.20" fill="#a6d4f2"/>
<rect x="378.11" y="248.10" width="14.32" height="16.20" fill="#e9f4fc"/>
<rect x="392.38" y="248.10" width="14.32" height="16.20" fill="#fff3f1"/>
<rect x="406.65" y="248.10" width="14.32" height="16.20" fill="#89c5ee"/>
<rect x="420.92" y="248.10" width="14.32" height="16.20" fill="#fff0ed"/>
<rect x="435.18" y="248.10" width="14.32" height="16.20" fill="#ffe0db"/>
<rect x="449.45" y="248.10" width="14.32" height="16.20" fill="#ff7a62"/>
<rect x="463.72" y="248.10" width="14.32" height="16.20" fill="#ff9683"/>
<rect x="477.99" y="248.10" width="14.32" height="16.20" fill="#ff9886"/>
<rect x="492.26" y="248.10" width="14.32" height="16.20" fill="#b8dcf5"/>
<rect x="506.53" y="248.10" width="14.32" height="16.20" fill="#ffb5a8"/>
<rect x="335.30" y="264.25" width="14.32" height="16.20" fill="#ffcbc2"/>
<rect x="349.57" y="264.25" width="14.32" height="16.20" fill="#9ecff1"/>
<rect x="363.84" y="264.25" width="14.32" height="16.20" fill="#fffefe"/>
<rect x="378.11" y="264.25" width="14.32" height="16.20" fill="#9bcef0"/>
<rect x="392.38" y="264.25" width="14.32" height="16.20" fill="#6ab6e9"/>
<rect x="406.65" y="264.25" width="14.32" height="16.20" fill="#fff1ef"/>
<rect x="420.92" y="264.25" width="14.32" height="16.20" fill="#80c1ed"/>
<rect x="435.18" y="264.25" width="14.32" height="16.20" fill="#319ae1"/>
<rect x="449.45" y="264.25" width="14.32" height="16.20" fill="#9ecff1"/>
<rect x="463.72" y="264.25" width="14.32" height="16.20" fill="#c4e2f6"/>
<rect x="477.99" y="264.25" width="14.32" height="16.20" fill="#ff735a"/>
<rect x="492.26" y="264.25" width="14.32" height="16.20" fill="#ff7158"/>
<rect x="506.53" y="264.25" width="14.32" height="16.20" fill="#9ecff1"/>
<rect x="335.30" y="280.40" width="14.32" height="16.20" fill="#edf6fc"/>
<rect x="349.57" y="280.40" width="14.32" height="16.20" fill="#afd8f3"/>
<rect x="363.84" y="280.40" width="14.32" height="16.20" fill="#fefeff"/>
<rect x="378.11" y="280.40" width="14.32" height="16.20" fill="#b8dcf5"/>
<rect x="392.38" y="280.40" width="14.32" height="16.20" fill="#7bbeec"/>
<rect x="406.65" y="280.40" width="14.32" height="16.20" fill="#f7fbfe"/>
<rect x="420.92" y="280.40" width="14.32" height="16.20" fill="#92caef"/>
<rect x="435.18" y="280.40" width="14.32" height="16.20" fill="#3ea1e3"/>
<rect x="449.45" y="280.40" width="14.32" height="16.20" fill="#98ccf0"/>
<rect x="463.72" y="280.40" width="14.32" height="16.20" fill="#95cbf0"/>
<rect x="477.99" y="280.40" width="14.32" height="16.20" fill="#ffa291"/>
<rect x="492.26" y="280.40" width="14.32" height="16.20" fill="#ff7760"/>
<rect x="506.53" y="280.40" width="14.32" height="16.20" fill="#5fb1e8"/>
<rect x="335.30" y="296.55" width="14.32" height="16.20" fill="#6fb9ea"/>
<rect x="349.57" y="296.55" width="14.32" height="16.20" fill="#a3d2f2"/>
<rect x="363.84" y="296.55" width="14.32" height="16.20" fill="#379de2"/>
<rect x="378.11" y="296.55" width="14.32" height="16.20" fill="#9ecff1"/>
<rect x="392.38" y="296.55" width="14.32" height="16.20" fill="#bedff5"/>
<rect x="406.65" y="296.55" width="14.32" height="16.20" fill="#7bbeec"/>
<rect x="420.92" y="296.55" width="14.32" height="16.20" fill="#ffd0c8"/>
<rect x="435.18" y="296.55" width="14.32" height="16.20" fill="#ffbfb4"/>
<rect x="449.45" y="296.55" width="14.32" height="16.20" fill="#fffefe"/>
<rect x="463.72" y="296.55" width="14.32" height="16.20" fill="#ffeeea"/>
<rect x="477.99" y="296.55" width="14.32" height="16.20" fill="#8fc8ef"/>
<rect x="492.26" y="296.55" width="14.32" height="16.20" fill="#2192df"/>
<rect x="506.53" y="296.55" width="14.32" height="16.20" fill="#ffb3a5"/>
<rect x="335.30" y="312.70" width="14.32" height="16.20" fill="#ff9683"/>
<rect x="349.57" y="312.70" width="14.32" height="16.20" fill="#e2f1fb"/>
<rect x="363.84" y="312.70" width="14.32" height="16.20" fill="#ffa291"/>
<rect x="378.11" y="312.70" width="14.32" height="16.20" fill="#ffebe7"/>
<rect x="392.38" y="312.70" width="14.32" height="16.20" fill="#ffb8ab"/>
<rect x="406.65" y="312.70" width="14.32" height="16.20" fill="#ddeefa"/>
<rect x="420.92" y="312.70" width="14.32" height="16.20" fill="#acd7f3"/>
<rect x="435.18" y="312.70" width="14.32" height="16.20" fill="#d2e9f8"/>
<rect x="449.45" y="312.70" width="14.32" height="16.20" fill="#ffcbc2"/>
<rect x="463.72" y="312.70" width="14.32" height="16.20" fill="#ffe7e3"/>
<rect x="477.99" y="312.70" width="14.32" height="16.20" fill="#ff806a"/>
<rect x="492.26" y="312.70" width="14.32" height="16.20" fill="#ffb5a8"/>
<rect x="506.53" y="312.70" width="14.32" height="16.20" fill="#ffd0c8"/>
<rect x="335.30" y="328.85" width="14.32" height="16.20" fill="#ffe0db"/>
<rect x="349.57" y="328.85" width="14.32" height="16.20" fill="#b2d9f4"/>
<rect x="363.84" y="328.85" width="14.32" height="16.20" fill="#fff9f8"/>
<rect x="378.11" y="328.85" width="14.32" height="16.20" fill="#a9d5f3"/>
<rect x="392.38" y="328.85" width="14.32" height="16.20" fill="#6ab6e9"/>
<rect x="406.65" y="328.85" width="14.32" height="16.20" fill="#ffeeeb"/>
<rect x="420.92" y="328.85" width="14.32" height="16.20" fill="#86c4ed"/>
<rect x="435.18" y="328.85" width="14.32" height="16.20" fill="#319ae1"/>
<rect x="449.45" y="328.85" width="14.32" height="16.20" fill="#92caef"/>
<rect x="463.72" y="328.85" width="14.32" height="16.20" fill="#b5dbf4"/>
<rect x="477.99" y="328.85" width="14.32" height="16.20" fill="#ff836d"/>
<rect x="492.26" y="328.85" width="14.32" height="16.20" fill="#ff6a50"/>
<rect x="506.53" y="328.85" width="14.32" height="16.20" fill="#7ec0ec"/>
<g transform="scale(1,1.3)">
<text x="342.43" y="146.77" font-size="4.25" text-anchor="middle" fill="#2a2a2a">0.12</text>
<text x="342.43" y="150.62" font-size="4.25" text-anchor="middle" fill="#2a2a2a">(0.6)</text>
<text x="356.70" y="146.77" font-size="4.25" text-anchor="middle" fill="#2a2a2a">0.8</text>
<text x="356.70" y="150.62" font-size="4.25" text-anchor="middle" fill="#2a2a2a">(0.1)</text>
<text x="370.97" y="146.77" font-size="4.25" text-anchor="middle" fill="#2a2a2a">0.38</text>
<text x="370.97" y="150.62" font-size="4.25" text-anchor="middle" fill="#2a2a2a">(4e−05)</text>
<text x="385.24" y="146.77" font-size="4.25" text-anchor="middle" fill="#2a2a2a">0.27</text>
<text x="385.24" y="150.62" font-size="4.25" text-anchor="middle" fill="#2a2a2a">(0.4)</text>
<text x="399.51" y="146.77" font-size="4.25" text-anchor="middle" fill="#2a2a2a">0.21</text>
<text x="399.51" y="150.62" font-size="4.25" text-anchor="middle" fill="#2a2a2a">(0.3)</text>
<text x="413.78" y="146.77" font-size="4.25" text-anchor="middle" fill="#2a2a2a">0.44</text>
<text x="413.78" y="150.62" font-size="4.25" text-anchor="middle" fill="#2a2a2a">(0.06)</text>
<text x="428.05" y="146.77" font-size="4.25" text-anchor="middle" fill="#2a2a2a">−0.13</text>
<text x="428.05" y="150.62" font-size="4.25" text-anchor="middle" fill="#2a2a2a">(0.6)</text>
<text x="442.32" y="146.77" font-size="4.25" text-anchor="middle" fill="#2a2a2a">0.28</text>
<text x="442.32" y="150.62" font-size="4.25" text-anchor="middle" fill="#2a2a2a">(0.2)</text>
<text x="456.59" y="146.77" font-size="4.25" text-anchor="middle" fill="#2a2a2a">−0.25</text>
<text x="456.59" y="150.62" font-size="4.25" text-anchor="middle" fill="#2a2a2a">(0.3)</text>
<text x="470.86" y="146.77" font-size="4.25" text-anchor="middle" fill="#2a2a2a">0.27</text>
<text x="470.86" y="150.62" font-size="4.25" text-anchor="middle" fill="#2a2a2a">(0.3)</text>
<text x="485.13" y="146.77" font-size="4.25" text-anchor="middle" fill="#2a2a2a">−0.24</text>
<text x="485.13" y="150.62" font-size="4.25" text-anchor="middle" fill="#2a2a2a">(0.3)</text>
<text x="499.40" y="146.77" font-size="4.25" text-anchor="middle" fill="#2a2a2a">0.29</text>
<text x="499.40" y="150.62" font-size="4.25" text-anchor="middle" fill="#2a2a2a">(0.2)</text>
<text x="513.67" y="146.77" font-size="4.25" text-anchor="middle" fill="#2a2a2a">−0.19</text>
<text x="513.67" y="150.62" font-size="4.25" text-anchor="middle" fill="#2a2a2a">(0.4)</text>
<text x="342.43" y="159.19" font-size="4.25" text-anchor="middle" fill="#2a2a2a">0.26</text>
<text x="342.43" y="163.04" font-size="4.25" text-anchor="middle" fill="#2a2a2a">(0.3)</text>
<text x="356.70" y="159.19" font-size="4.25" text-anchor="middle" fill="#2a2a2a">−0.48</text>
<text x="356.70" y="163.04" font-size="4.25" text-anchor="middle" fill="#2a2a2a">(0.3)</text>
<text x="370.97" y="159.19" font-size="4.25" text-anchor="middle" fill="#2a2a2a">−0.23</text>
<text x="370.97" y="163.04" font-size="4.25" text-anchor="middle" fill="#2a2a2a">(0.04)</text>
<text x="385.24" y="159.19" font-size="4.25" text-anchor="middle" fill="#2a2a2a">−0.12</text>
<text x="385.24" y="163.04" font-size="4.25" text-anchor="middle" fill="#2a2a2a">(0.8)</text>
<text x="399.51" y="159.19" font-size="4.25" text-anchor="middle" fill="#2a2a2a">−0.065</text>
<text x="399.51" y="163.04" font-size="4.25" text-anchor="middle" fill="#2a2a2a">(0.6)</text>
<text x="413.78" y="159.19" font-size="4.25" text-anchor="middle" fill="#2a2a2a">−0.19</text>
<text x="413.78" y="163.04" font-size="4.25" text-anchor="middle" fill="#2a2a2a">(0.4)</text>
<text x="428.05" y="159.19" font-size="4.25" text-anchor="middle" fill="#2a2a2a">0.17</text>
<text x="428.05" y="163.04" font-size="4.25" text-anchor="middle" fill="#2a2a2a">(0.5)</text>
<text x="442.32" y="159.19" font-size="4.25" text-anchor="middle" fill="#2a2a2a">−0.017</text>
<text x="442.32" y="163.04" font-size="4.25" text-anchor="middle" fill="#2a2a2a">(0.9)</text>
<text x="456.59" y="159.19" font-size="4.25" text-anchor="middle" fill="#2a2a2a">0.53</text>
<text x="456.59" y="163.04" font-size="4.25" text-anchor="middle" fill="#2a2a2a">(0.02)</text>
<text x="470.86" y="159.19" font-size="4.25" text-anchor="middle" fill="#2a2a2a">0.54</text>
<text x="470.86" y="163.04" font-size="4.25" text-anchor="middle" fill="#2a2a2a">(0.02)</text>
<text x="485.13" y="159.19" font-size="4.25" text-anchor="middle" fill="#2a2a2a">0.66</text>
<text x="485.13" y="163.04" font-size="4.25" text-anchor="middle" fill="#2a2a2a">(0.002)</text>
<text x="499.40" y="159.19" font-size="4.25" text-anchor="middle" fill="#2a2a2a">−0.0023</text>
<text x="499.40" y="163.04" font-size="4.25" text-anchor="middle" fill="#2a2a2a">(1)</text>
<text x="513.67" y="159.19" font-size="4.25" text-anchor="middle" fill="#2a2a2a">0.43</text>
<text x="513.67" y="163.04" font-size="4.25" text-anchor="middle" fill="#2a2a2a">(0.07)</text>
<text x="342.43" y="171.62" font-size="4.25" text-anchor="middle" fill="#2a2a2a">−0.062</text>
<text x="342.43" y="175.46" font-size="4.25" text-anchor="middle" fill="#2a2a2a">(0.8)</text>
<text x="356.70" y="171.62" font-size="4.25" text-anchor="middle" fill="#2a2a2a">−0.58</text>
<text x="356.70" y="175.46" font-size="4.25" text-anchor="middle" fill="#2a2a2a">(0.04)</text>
<text x="370.97" y="171.62" font-size="4.25" text-anchor="middle" fill="#2a2a2a">−0.48</text>
<text x="370.97" y="175.46" font-size="4.25" text-anchor="middle" fill="#2a2a2a">(0.01)</text>
<text x="385.24" y="171.62" font-size="4.25" text-anchor="middle" fill="#2a2a2a">−0.21</text>
<text x="385.24" y="175.46" font-size="4.25" text-anchor="middle" fill="#2a2a2a">(0.01)</text>
<text x="399.51" y="171.62" font-size="4.25" text-anchor="middle" fill="#2a2a2a">−0.57</text>
<text x="399.51" y="175.46" font-size="4.25" text-anchor="middle" fill="#2a2a2a">(0.4)</text>
<text x="413.78" y="171.62" font-size="4.25" text-anchor="middle" fill="#2a2a2a">0.25</text>
<text x="413.78" y="175.46" font-size="4.25" text-anchor="middle" fill="#2a2a2a">(0.3)</text>
<text x="428.05" y="171.62" font-size="4.25" text-anchor="middle" fill="#2a2a2a">0.19</text>
<text x="428.05" y="175.46" font-size="4.25" text-anchor="middle" fill="#2a2a2a">(0.4)</text>
<text x="442.32" y="171.62" font-size="4.25" text-anchor="middle" fill="#2a2a2a">−0.27</text>
<text x="442.32" y="175.46" font-size="4.25" text-anchor="middle" fill="#2a2a2a">(0.3)</text>
<text x="456.59" y="171.62" font-size="4.25" text-anchor="middle" fill="#2a2a2a">0.31</text>
<text x="456.59" y="175.46" font-size="4.25" text-anchor="middle" fill="#2a2a2a">(0.2)</text>
<text x="470.86" y="171.62" font-size="4.25" text-anchor="middle" fill="#2a2a2a">0.22</text>
<text x="470.86" y="175.46" font-size="4.25" text-anchor="middle" fill="#2a2a2a">(0.4)</text>
<text x="485.13" y="171.62" font-size="4.25" text-anchor="middle" fill="#2a2a2a">0.38</text>
<text x="485.13" y="175.46" font-size="4.25" text-anchor="middle" fill="#2a2a2a">(0.1)</text>
<text x="499.40" y="171.62" font-size="4.25" text-anchor="middle" fill="#2a2a2a">0.15</text>
<text x="499.40" y="175.46" font-size="4.25" text-anchor="middle" fill="#2a2a2a">(0.6)</text>
<text x="513.67" y="171.62" font-size="4.25" text-anchor="middle" fill="#2a2a2a">−0.093</text>
<text x="513.67" y="175.46" font-size="4.25" text-anchor="middle" fill="#2a2a2a">(0.7)</text>
<text x="342.43" y="184.04" font-size="4.25" text-anchor="middle" fill="#2a2a2a">0.36</text>
<text x="342.43" y="187.88" font-size="4.25" text-anchor="middle" fill="#2a2a2a">(0.1)</text>
<text x="356.70" y="184.04" font-size="4.25" text-anchor="middle" fill="#2a2a2a">−0.37</text>
<text x="356.70" y="187.88" font-size="4.25" text-anchor="middle" fill="#2a2a2a">(1)</text>
<text x="370.97" y="184.04" font-size="4.25" text-anchor="middle" fill="#2a2a2a">0.0045</text>
<text x="370.97" y="187.88" font-size="4.25" text-anchor="middle" fill="#2a2a2a">(0.1)</text>
<text x="385.24" y="184.04" font-size="4.25" text-anchor="middle" fill="#2a2a2a">−0.33</text>
<text x="385.24" y="187.88" font-size="4.25" text-anchor="middle" fill="#2a2a2a">(0.03)</text>
<text x="399.51" y="184.04" font-size="4.25" text-anchor="middle" fill="#2a2a2a">−0.49</text>
<text x="399.51" y="187.88" font-size="4.25" text-anchor="middle" fill="#2a2a2a">(0.2)</text>
<text x="413.78" y="184.04" font-size="4.25" text-anchor="middle" fill="#2a2a2a">0.094</text>
<text x="413.78" y="187.88" font-size="4.25" text-anchor="middle" fill="#2a2a2a">(0.7)</text>
<text x="428.05" y="184.04" font-size="4.25" text-anchor="middle" fill="#2a2a2a">−0.37</text>
<text x="428.05" y="187.88" font-size="4.25" text-anchor="middle" fill="#2a2a2a">(0.1)</text>
<text x="442.32" y="184.04" font-size="4.25" text-anchor="middle" fill="#2a2a2a">−0.72</text>
<text x="442.32" y="187.88" font-size="4.25" text-anchor="middle" fill="#2a2a2a">(1e−04)</text>
<text x="456.59" y="184.04" font-size="4.25" text-anchor="middle" fill="#2a2a2a">−0.2</text>
<text x="456.59" y="187.88" font-size="4.25" text-anchor="middle" fill="#2a2a2a">(0.4)</text>
<text x="470.86" y="184.04" font-size="4.25" text-anchor="middle" fill="#2a2a2a">−0.049</text>
<text x="470.86" y="187.88" font-size="4.25" text-anchor="middle" fill="#2a2a2a">(0.8)</text>
<text x="485.13" y="184.04" font-size="4.25" text-anchor="middle" fill="#2a2a2a">0.72</text>
<text x="485.13" y="187.88" font-size="4.25" text-anchor="middle" fill="#2a2a2a">(6e−04)</text>
<text x="499.40" y="184.04" font-size="4.25" text-anchor="middle" fill="#2a2a2a">0.6</text>
<text x="499.40" y="187.88" font-size="4.25" text-anchor="middle" fill="#2a2a2a">(0.007)</text>
<text x="513.67" y="184.04" font-size="4.25" text-anchor="middle" fill="#2a2a2a">−0.19</text>
<text x="513.67" y="187.88" font-size="4.25" text-anchor="middle" fill="#2a2a2a">(0.4)</text>
<text x="342.43" y="196.46" font-size="4.25" text-anchor="middle" fill="#2a2a2a">−0.045</text>
<text x="342.43" y="200.31" font-size="4.25" text-anchor="middle" fill="#2a2a2a">(0.9)</text>
<text x="356.70" y="196.46" font-size="4.25" text-anchor="middle" fill="#2a2a2a">−0.48</text>
<text x="356.70" y="200.31" font-size="4.25" text-anchor="middle" fill="#2a2a2a">(0.2)</text>
<text x="370.97" y="196.46" font-size="4.25" text-anchor="middle" fill="#2a2a2a">−0.32</text>
<text x="370.97" y="200.31" font-size="4.25" text-anchor="middle" fill="#2a2a2a">(0.04)</text>
<text x="385.24" y="196.46" font-size="4.25" text-anchor="middle" fill="#2a2a2a">−0.086</text>
<text x="385.24" y="200.31" font-size="4.25" text-anchor="middle" fill="#2a2a2a">(0.8)</text>
<text x="399.51" y="196.46" font-size="4.25" text-anchor="middle" fill="#2a2a2a">0.055</text>
<text x="399.51" y="200.31" font-size="4.25" text-anchor="middle" fill="#2a2a2a">(0.7)</text>
<text x="413.78" y="196.46" font-size="4.25" text-anchor="middle" fill="#2a2a2a">−0.42</text>
<text x="413.78" y="200.31" font-size="4.25" text-anchor="middle" fill="#2a2a2a">(0.06)</text>
<text x="428.05" y="196.46" font-size="4.25" text-anchor="middle" fill="#2a2a2a">0.071</text>
<text x="428.05" y="200.31" font-size="4.25" text-anchor="middle" fill="#2a2a2a">(0.8)</text>
<text x="442.32" y="196.46" font-size="4.25" text-anchor="middle" fill="#2a2a2a">0.14</text>
<text x="442.32" y="200.31" font-size="4.25" text-anchor="middle" fill="#2a2a2a">(0.6)</text>
<text x="456.59" y="196.46" font-size="4.25" text-anchor="middle" fill="#2a2a2a">0.57</text>
<text x="456.59" y="200.31" font-size="4.25" text-anchor="middle" fill="#2a2a2a">(0.01)</text>
<text x="470.86" y="196.46" font-size="4.25" text-anchor="middle" fill="#2a2a2a">0.45</text>
<text x="470.86" y="200.31" font-size="4.25" text-anchor="middle" fill="#2a2a2a">(0.05)</text>
<text x="485.13" y="196.46" font-size="4.25" text-anchor="middle" fill="#2a2a2a">0.44</text>
<text x="485.13" y="200.31" font-size="4.25" text-anchor="middle" fill="#2a2a2a">(0.06)</text>
<text x="499.40" y="196.46" font-size="4.25" text-anchor="middle" fill="#2a2a2a">−0.26</text>
<text x="499.40" y="200.31" font-size="4.25" text-anchor="middle" fill="#2a2a2a">(0.3)</text>
<text x="513.67" y="196.46" font-size="4.25" text-anchor="middle" fill="#2a2a2a">0.32</text>
<text x="513.67" y="200.31" font-size="4.25" text-anchor="middle" fill="#2a2a2a">(0.2)</text>
<text x="342.43" y="208.88" font-size="4.25" text-anchor="middle" fill="#2a2a2a">0.23</text>
<text x="342.43" y="212.73" font-size="4.25" text-anchor="middle" fill="#2a2a2a">(0.3)</text>
<text x="356.70" y="208.88" font-size="4.25" text-anchor="middle" fill="#2a2a2a">−0.35</text>
<text x="356.70" y="212.73" font-size="4.25" text-anchor="middle" fill="#2a2a2a">(1)</text>
<text x="370.97" y="208.88" font-size="4.25" text-anchor="middle" fill="#2a2a2a">0.0031</text>
<text x="370.97" y="212.73" font-size="4.25" text-anchor="middle" fill="#2a2a2a">(0.1)</text>
<text x="385.24" y="208.88" font-size="4.25" text-anchor="middle" fill="#2a2a2a">−0.36</text>
<text x="385.24" y="212.73" font-size="4.25" text-anchor="middle" fill="#2a2a2a">(0.02)</text>
<text x="399.51" y="208.88" font-size="4.25" text-anchor="middle" fill="#2a2a2a">−0.53</text>
<text x="399.51" y="212.73" font-size="4.25" text-anchor="middle" fill="#2a2a2a">(0.1)</text>
<text x="413.78" y="208.88" font-size="4.25" text-anchor="middle" fill="#2a2a2a">0.066</text>
<text x="413.78" y="212.73" font-size="4.25" text-anchor="middle" fill="#2a2a2a">(0.8)</text>
<text x="428.05" y="208.88" font-size="4.25" text-anchor="middle" fill="#2a2a2a">−0.45</text>
<text x="428.05" y="212.73" font-size="4.25" text-anchor="middle" fill="#2a2a2a">(0.05)</text>
<text x="442.32" y="208.88" font-size="4.25" text-anchor="middle" fill="#2a2a2a">−0.76</text>
<text x="442.32" y="212.73" font-size="4.25" text-anchor="middle" fill="#2a2a2a">(5e−05)</text>
<text x="456.59" y="208.88" font-size="4.25" text-anchor="middle" fill="#2a2a2a">−0.35</text>
<text x="456.59" y="212.73" font-size="4.25" text-anchor="middle" fill="#2a2a2a">(0.1)</text>
<text x="470.86" y="208.88" font-size="4.25" text-anchor="middle" fill="#2a2a2a">−0.22</text>
<text x="470.86" y="212.73" font-size="4.25" text-anchor="middle" fill="#2a2a2a">(0.4)</text>
<text x="485.13" y="208.88" font-size="4.25" text-anchor="middle" fill="#2a2a2a">0.6</text>
<text x="485.13" y="212.73" font-size="4.25" text-anchor="middle" fill="#2a2a2a">(0.007)</text>
<text x="499.40" y="208.88" font-size="4.25" text-anchor="middle" fill="#2a2a2a">0.61</text>
<text x="499.40" y="212.73" font-size="4.25" text-anchor="middle" fill="#2a2a2a">(0.006)</text>
<text x="513.67" y="208.88" font-size="4.25" text-anchor="middle" fill="#2a2a2a">−0.35</text>
<text x="513.67" y="212.73" font-size="4.25" text-anchor="middle" fill="#2a2a2a">(0.1)</text>
<text x="342.43" y="221.31" font-size="4.25" text-anchor="middle" fill="#2a2a2a">−0.07</text>
<text x="342.43" y="225.15" font-size="4.25" text-anchor="middle" fill="#2a2a2a">(0.8)</text>
<text x="356.70" y="221.31" font-size="4.25" text-anchor="middle" fill="#2a2a2a">−0.29</text>
<text x="356.70" y="225.15" font-size="4.25" text-anchor="middle" fill="#2a2a2a">(1)</text>
<text x="370.97" y="221.31" font-size="4.25" text-anchor="middle" fill="#2a2a2a">−0.0057</text>
<text x="370.97" y="225.15" font-size="4.25" text-anchor="middle" fill="#2a2a2a">(0.2)</text>
<text x="385.24" y="221.31" font-size="4.25" text-anchor="middle" fill="#2a2a2a">−0.26</text>
<text x="385.24" y="225.15" font-size="4.25" text-anchor="middle" fill="#2a2a2a">(0.04)</text>
<text x="399.51" y="221.31" font-size="4.25" text-anchor="middle" fill="#2a2a2a">−0.47</text>
<text x="399.51" y="225.15" font-size="4.25" text-anchor="middle" fill="#2a2a2a">(0.3)</text>
<text x="413.78" y="221.31" font-size="4.25" text-anchor="middle" fill="#2a2a2a">−0.034</text>
<text x="413.78" y="225.15" font-size="4.25" text-anchor="middle" fill="#2a2a2a">(0.9)</text>
<text x="428.05" y="221.31" font-size="4.25" text-anchor="middle" fill="#2a2a2a">−0.39</text>
<text x="428.05" y="225.15" font-size="4.25" text-anchor="middle" fill="#2a2a2a">(0.1)</text>
<text x="442.32" y="221.31" font-size="4.25" text-anchor="middle" fill="#2a2a2a">−0.7</text>
<text x="442.32" y="225.15" font-size="4.25" text-anchor="middle" fill="#2a2a2a">(0.001)</text>
<text x="456.59" y="221.31" font-size="4.25" text-anchor="middle" fill="#2a2a2a">−0.37</text>
<text x="456.59" y="225.15" font-size="4.25" text-anchor="middle" fill="#2a2a2a">(0.1)</text>
<text x="470.86" y="221.31" font-size="4.25" text-anchor="middle" fill="#2a2a2a">−0.38</text>
<text x="470.86" y="225.15" font-size="4.25" text-anchor="middle" fill="#2a2a2a">(0.1)</text>
<text x="485.13" y="221.31" font-size="4.25" text-anchor="middle" fill="#2a2a2a">0.4</text>
<text x="485.13" y="225.15" font-size="4.25" text-anchor="middle" fill="#2a2a2a">(0.09)</text>
<text x="499.40" y="221.31" font-size="4.25" text-anchor="middle" fill="#2a2a2a">0.58</text>
<text x="499.40" y="225.15" font-size="4.25" text-anchor="middle" fill="#2a2a2a">(0.01)</text>
<text x="513.67" y="221.31" font-size="4.25" text-anchor="middle" fill="#2a2a2a">−0.57</text>
<text x="513.67" y="225.15" font-size="4.25" text-anchor="middle" fill="#2a2a2a">(0.01)</text>
<text x="342.43" y="233.73" font-size="4.25" text-anchor="middle" fill="#2a2a2a">−0.51</text>
<text x="342.43" y="237.58" font-size="4.25" text-anchor="middle" fill="#2a2a2a">(0.03)</text>
<text x="356.70" y="233.73" font-size="4.25" text-anchor="middle" fill="#2a2a2a">−0.33</text>
<text x="356.70" y="237.58" font-size="4.25" text-anchor="middle" fill="#2a2a2a">(4e−04)</text>
<text x="370.97" y="233.73" font-size="4.25" text-anchor="middle" fill="#2a2a2a">−0.73</text>
<text x="370.97" y="237.58" font-size="4.25" text-anchor="middle" fill="#2a2a2a">(0.2)</text>
<text x="385.24" y="233.73" font-size="4.25" text-anchor="middle" fill="#2a2a2a">−0.35</text>
<text x="385.24" y="237.58" font-size="4.25" text-anchor="middle" fill="#2a2a2a">(0.3)</text>
<text x="399.51" y="233.73" font-size="4.25" text-anchor="middle" fill="#2a2a2a">−0.24</text>
<text x="399.51" y="237.58" font-size="4.25" text-anchor="middle" fill="#2a2a2a">(0.1)</text>
<text x="413.78" y="233.73" font-size="4.25" text-anchor="middle" fill="#2a2a2a">−0.47</text>
<text x="413.78" y="237.58" font-size="4.25" text-anchor="middle" fill="#2a2a2a">(0.04)</text>
<text x="428.05" y="233.73" font-size="4.25" text-anchor="middle" fill="#2a2a2a">0.21</text>
<text x="428.05" y="237.58" font-size="4.25" text-anchor="middle" fill="#2a2a2a">(0.4)</text>
<text x="442.32" y="233.73" font-size="4.25" text-anchor="middle" fill="#2a2a2a">0.28</text>
<text x="442.32" y="237.58" font-size="4.25" text-anchor="middle" fill="#2a2a2a">(0.2)</text>
<text x="456.59" y="233.73" font-size="4.25" text-anchor="middle" fill="#2a2a2a">0.0038</text>
<text x="456.59" y="237.58" font-size="4.25" text-anchor="middle" fill="#2a2a2a">(1)</text>
<text x="470.86" y="233.73" font-size="4.25" text-anchor="middle" fill="#2a2a2a">0.082</text>
<text x="470.86" y="237.58" font-size="4.25" text-anchor="middle" fill="#2a2a2a">(0.7)</text>
<text x="485.13" y="233.73" font-size="4.25" text-anchor="middle" fill="#2a2a2a">−0.4</text>
<text x="485.13" y="237.58" font-size="4.25" text-anchor="middle" fill="#2a2a2a">(0.09)</text>
<text x="499.40" y="233.73" font-size="4.25" text-anchor="middle" fill="#2a2a2a">−0.84</text>
<text x="499.40" y="237.58" font-size="4.25" text-anchor="middle" fill="#2a2a2a">(5e−05)</text>
<text x="513.67" y="233.73" font-size="4.25" text-anchor="middle" fill="#2a2a2a">0.33</text>
<text x="513.67" y="237.58" font-size="4.25" text-anchor="middle" fill="#2a2a2a">(0.2)</text>
<text x="342.43" y="246.15" font-size="4.25" text-anchor="middle" fill="#2a2a2a">0.45</text>
<text x="342.43" y="250.00" font-size="4.25" text-anchor="middle" fill="#2a2a2a">(0.05)</text>
<text x="356.70" y="246.15" font-size="4.25" text-anchor="middle" fill="#2a2a2a">−0.11</text>
<text x="356.70" y="250.00" font-size="4.25" text-anchor="middle" fill="#2a2a2a">(0.09)</text>
<text x="370.97" y="246.15" font-size="4.25" text-anchor="middle" fill="#2a2a2a">0.4</text>
<text x="370.97" y="250.00" font-size="4.25" text-anchor="middle" fill="#2a2a2a">(0.6)</text>
<text x="385.24" y="246.15" font-size="4.25" text-anchor="middle" fill="#2a2a2a">0.094</text>
<text x="385.24" y="250.00" font-size="4.25" text-anchor="middle" fill="#2a2a2a">(0.2)</text>
<text x="399.51" y="246.15" font-size="4.25" text-anchor="middle" fill="#2a2a2a">0.31</text>
<text x="399.51" y="250.00" font-size="4.25" text-anchor="middle" fill="#2a2a2a">(0.7)</text>
<text x="413.78" y="246.15" font-size="4.25" text-anchor="middle" fill="#2a2a2a">−0.13</text>
<text x="413.78" y="250.00" font-size="4.25" text-anchor="middle" fill="#2a2a2a">(0.6)</text>
<text x="428.05" y="246.15" font-size="4.25" text-anchor="middle" fill="#2a2a2a">−0.3</text>
<text x="428.05" y="250.00" font-size="4.25" text-anchor="middle" fill="#2a2a2a">(0.2)</text>
<text x="442.32" y="246.15" font-size="4.25" text-anchor="middle" fill="#2a2a2a">−0.17</text>
<text x="442.32" y="250.00" font-size="4.25" text-anchor="middle" fill="#2a2a2a">(0.5)</text>
<text x="456.59" y="246.15" font-size="4.25" text-anchor="middle" fill="#2a2a2a">0.23</text>
<text x="456.59" y="250.00" font-size="4.25" text-anchor="middle" fill="#2a2a2a">(0.3)</text>
<text x="470.86" y="246.15" font-size="4.25" text-anchor="middle" fill="#2a2a2a">0.11</text>
<text x="470.86" y="250.00" font-size="4.25" text-anchor="middle" fill="#2a2a2a">(0.7)</text>
<text x="485.13" y="246.15" font-size="4.25" text-anchor="middle" fill="#2a2a2a">0.54</text>
<text x="485.13" y="250.00" font-size="4.25" text-anchor="middle" fill="#2a2a2a">(0.02)</text>
<text x="499.40" y="246.15" font-size="4.25" text-anchor="middle" fill="#2a2a2a">0.32</text>
<text x="499.40" y="250.00" font-size="4.25" text-anchor="middle" fill="#2a2a2a">(0.2)</text>
<text x="513.67" y="246.15" font-size="4.25" text-anchor="middle" fill="#2a2a2a">0.21</text>
<text x="513.67" y="250.00" font-size="4.25" text-anchor="middle" fill="#2a2a2a">(0.4)</text>
<text x="342.43" y="258.58" font-size="4.25" text-anchor="middle" fill="#2a2a2a">0.14</text>
<text x="342.43" y="262.42" font-size="4.25" text-anchor="middle" fill="#2a2a2a">(0.6)</text>
<text x="356.70" y="258.58" font-size="4.25" text-anchor="middle" fill="#2a2a2a">−0.28</text>
<text x="356.70" y="262.42" font-size="4.25" text-anchor="middle" fill="#2a2a2a">(0.9)</text>
<text x="370.97" y="258.58" font-size="4.25" text-anchor="middle" fill="#2a2a2a">0.027</text>
<text x="370.97" y="262.42" font-size="4.25" text-anchor="middle" fill="#2a2a2a">(0.3)</text>
<text x="385.24" y="258.58" font-size="4.25" text-anchor="middle" fill="#2a2a2a">−0.31</text>
<text x="385.24" y="262.42" font-size="4.25" text-anchor="middle" fill="#2a2a2a">(0.02)</text>
<text x="399.51" y="258.58" font-size="4.25" text-anchor="middle" fill="#2a2a2a">−0.53</text>
<text x="399.51" y="262.42" font-size="4.25" text-anchor="middle" fill="#2a2a2a">(0.2)</text>
<text x="413.78" y="258.58" font-size="4.25" text-anchor="middle" fill="#2a2a2a">0.081</text>
<text x="413.78" y="262.42" font-size="4.25" text-anchor="middle" fill="#2a2a2a">(0.7)</text>
<text x="428.05" y="258.58" font-size="4.25" text-anchor="middle" fill="#2a2a2a">−0.43</text>
<text x="428.05" y="262.42" font-size="4.25" text-anchor="middle" fill="#2a2a2a">(0.06)</text>
<text x="442.32" y="258.58" font-size="4.25" text-anchor="middle" fill="#2a2a2a">−0.76</text>
<text x="442.32" y="262.42" font-size="4.25" text-anchor="middle" fill="#2a2a2a">(1e−04)</text>
<text x="456.59" y="258.58" font-size="4.25" text-anchor="middle" fill="#2a2a2a">−0.39</text>
<text x="456.59" y="262.42" font-size="4.25" text-anchor="middle" fill="#2a2a2a">(0.08)</text>
<text x="470.86" y="258.58" font-size="4.25" text-anchor="middle" fill="#2a2a2a">−0.27</text>
<text x="470.86" y="262.42" font-size="4.25" text-anchor="middle" fill="#2a2a2a">(0.3)</text>
<text x="485.13" y="258.58" font-size="4.25" text-anchor="middle" fill="#2a2a2a">0.53</text>
<text x="485.13" y="262.42" font-size="4.25" text-anchor="middle" fill="#2a2a2a">(0.02)</text>
<text x="499.40" y="258.58" font-size="4.25" text-anchor="middle" fill="#2a2a2a">0.64</text>
<text x="499.40" y="262.42" font-size="4.25" text-anchor="middle" fill="#2a2a2a">(0.003)</text>
<text x="513.67" y="258.58" font-size="4.25" text-anchor="middle" fill="#2a2a2a">−0.46</text>
<text x="513.67" y="262.42" font-size="4.25" text-anchor="middle" fill="#2a2a2a">(0.05)</text>
</g>
<rect x="335.3" y="183.5" width="185.50" height="161.50" fill="none" stroke="#555" stroke-width="0.8"/>
<text x="332.00" y="193.38" font-size="5.2" text-anchor="end" fill="#0a0a0a">Glycolysis / Gluconeogenesis</text>
<text x="332.00" y="209.53" font-size="5.2" text-anchor="end" fill="#0a0a0a">Peroxisome</text>
<text x="332.00" y="225.68" font-size="5.2" text-anchor="end" fill="#0a0a0a">Valine, leucine and isoleucine degradation</text>
<text x="332.00" y="241.82" font-size="5.2" text-anchor="end" fill="#0a0a0a">Fatty acid metabolism</text>
<text x="332.00" y="257.98" font-size="5.2" text-anchor="end" fill="#0a0a0a">Terpenoid backbone biosynthesis</text>
<text x="332.00" y="274.12" font-size="5.2" text-anchor="end" fill="#0a0a0a">Fatty acid biosynthesis</text>
<text x="332.00" y="290.28" font-size="5.2" text-anchor="end" fill="#0a0a0a">Photosynthesis - antenna proteins</text>
<text x="332.00" y="306.43" font-size="5.2" text-anchor="end" fill="#0a0a0a">Nicotinate and nicotinamide metabolism</text>
<text x="332.00" y="322.57" font-size="5.2" text-anchor="end" fill="#0a0a0a">Fatty acid elongation</text>
<text x="332.00" y="338.72" font-size="5.2" text-anchor="end" fill="#0a0a0a">Biotin metabolism</text>
<rect x="335.30" y="349.2" width="14.32" height="7.6" fill="#bebebe"/>
<text x="347.13" y="360.80" font-size="5.3" text-anchor="end" fill="#0a0a0a" transform="rotate(-45 347.13 360.80)">MEgrey</text>
<rect x="349.57" y="349.2" width="14.32" height="7.6" fill="#bf2828"/>
<text x="361.40" y="360.80" font-size="5.3" text-anchor="end" fill="#0a0a0a" transform="rotate(-45 361.40 360.80)">MEbrown</text>
<rect x="363.84" y="349.2" width="14.32" height="7.6" fill="#000000"/>
<text x="375.67" y="360.80" font-size="5.3" text-anchor="end" fill="#0a0a0a" transform="rotate(-45 375.67 360.80)">MEblack</text>
<rect x="378.11" y="349.2" width="14.32" height="7.6" fill="#f0ec00"/>
<text x="389.94" y="360.80" font-size="5.3" text-anchor="end" fill="#0a0a0a" transform="rotate(-45 389.94 360.80)">MEyellow</text>
<rect x="392.38" y="349.2" width="14.32" height="7.6" fill="#92c83a"/>
<text x="404.21" y="360.80" font-size="5.3" text-anchor="end" fill="#0a0a0a" transform="rotate(-45 404.21 360.80)">MEgreenyellow</text>
<rect x="406.65" y="349.2" width="14.32" height="7.6" fill="#7a40b8"/>
<text x="418.48" y="360.80" font-size="5.3" text-anchor="end" fill="#0a0a0a" transform="rotate(-45 418.48 360.80)">MEpurple</text>
<rect x="420.92" y="349.2" width="14.32" height="7.6" fill="#ffb8c8"/>
<text x="432.75" y="360.80" font-size="5.3" text-anchor="end" fill="#0a0a0a" transform="rotate(-45 432.75 360.80)">MEpink</text>
<rect x="435.18" y="349.2" width="14.32" height="7.6" fill="#22b022"/>
<text x="447.02" y="360.80" font-size="5.3" text-anchor="end" fill="#0a0a0a" transform="rotate(-45 447.02 360.80)">MEgreen</text>
<rect x="449.45" y="349.2" width="14.32" height="7.6" fill="#1448a0"/>
<text x="461.29" y="360.80" font-size="5.3" text-anchor="end" fill="#0a0a0a" transform="rotate(-45 461.29 360.80)">MEblue</text>
<rect x="463.72" y="349.2" width="14.32" height="7.6" fill="#20c8c0"/>
<text x="475.56" y="360.80" font-size="5.3" text-anchor="end" fill="#0a0a0a" transform="rotate(-45 475.56 360.80)">MEturquoise</text>
<rect x="477.99" y="349.2" width="14.32" height="7.6" fill="#d4b088"/>
<text x="489.83" y="360.80" font-size="5.3" text-anchor="end" fill="#0a0a0a" transform="rotate(-45 489.83 360.80)">MEtan</text>
<rect x="492.26" y="349.2" width="14.32" height="7.6" fill="#ff1010"/>
<text x="504.10" y="360.80" font-size="5.3" text-anchor="end" fill="#0a0a0a" transform="rotate(-45 504.10 360.80)">MEred</text>
<rect x="506.53" y="349.2" width="14.32" height="7.6" fill="#b050b0"/>
<text x="518.37" y="360.80" font-size="5.3" text-anchor="end" fill="#0a0a0a" transform="rotate(-45 518.37 360.80)">MEmagenta</text>
<defs><linearGradient id="cb" x1="0" y1="0" x2="0" y2="1"><stop offset="0.000" stop-color="#ff330f"/><stop offset="0.050" stop-color="#ff3d1c"/><stop offset="0.100" stop-color="#ff4c2d"/><stop offset="0.150" stop-color="#ff5e42"/><stop offset="0.200" stop-color="#ff735a"/><stop offset="0.250" stop-color="#ff8a75"/><stop offset="0.300" stop-color="#ffa291"/><stop offset="0.350" stop-color="#ffbaae"/><stop offset="0.400" stop-color="#ffd2ca"/><stop offset="0.450" stop-color="#ffe9e6"/><stop offset="0.500" stop-color="#ffffff"/><stop offset="0.550" stop-color="#e5f2fb"/><stop offset="0.600" stop-color="#c9e5f7"/><stop offset="0.650" stop-color="#acd7f3"/><stop offset="0.700" stop-color="#8fc8ef"/><stop offset="0.750" stop-color="#72baea"/><stop offset="0.800" stop-color="#57ade6"/><stop offset="0.850" stop-color="#3ea1e3"/><stop offset="0.900" stop-color="#2896e0"/><stop offset="0.950" stop-color="#178ddd"/><stop offset="1.000" stop-color="#0a87db"/></linearGradient></defs>
<rect x="525.2" y="184.4" width="7.0" height="162.99999999999997" fill="url(#cb)"/>
<rect x="525.2" y="184.4" width="7.0" height="162.99999999999997" fill="none" stroke="#bbb" stroke-width="0.4"/>
<line x1="532.2" y1="184.40" x2="536.6" y2="184.40" stroke="#333" stroke-width="0.6"/>
<text x="539.50" y="186.00" font-size="4.6" text-anchor="start" fill="#0a0a0a">1</text>
<line x1="532.2" y1="225.15" x2="536.6" y2="225.15" stroke="#333" stroke-width="0.6"/>
<text x="539.50" y="226.75" font-size="4.6" text-anchor="start" fill="#0a0a0a">0.5</text>
<line x1="532.2" y1="265.90" x2="536.6" y2="265.90" stroke="#333" stroke-width="0.6"/>
<text x="539.50" y="267.50" font-size="4.6" text-anchor="start" fill="#0a0a0a">0</text>
<line x1="532.2" y1="306.65" x2="536.6" y2="306.65" stroke="#333" stroke-width="0.6"/>
<text x="539.50" y="308.25" font-size="4.6" text-anchor="start" fill="#0a0a0a">−0.5</text>
<line x1="532.2" y1="347.40" x2="536.6" y2="347.40" stroke="#333" stroke-width="0.6"/>
<text x="539.50" y="349.00" font-size="4.6" text-anchor="start" fill="#0a0a0a">−1</text>
</svg>
</body></html>
